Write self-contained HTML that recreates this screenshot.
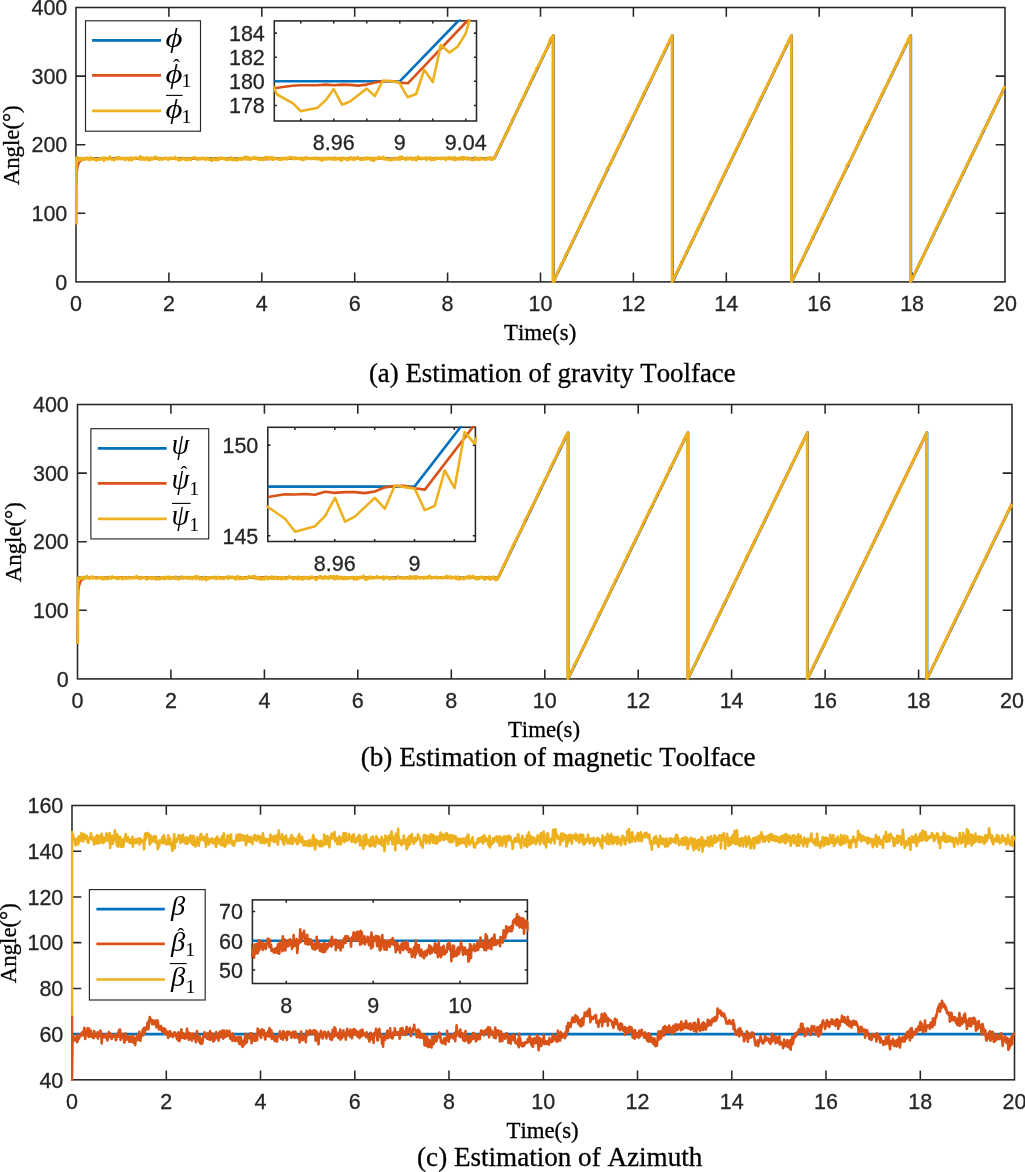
<!DOCTYPE html>
<html lang="en"><head><meta charset="utf-8"><title>Estimation of toolface and azimuth</title>
<style>html,body{margin:0;padding:0;background:#fff}svg{display:block}.t{stroke:#262626;stroke-width:.3px}.s{stroke:#000;stroke-width:.3px;font-kerning:none}</style></head>
<body>
<svg width="1025" height="1172" viewBox="0 0 1025 1172" font-family="'Liberation Sans',Arial,sans-serif" font-size="21.5" fill="#262626">
<rect width="1025" height="1172" fill="#fff"/>
<path d="M168.9 281.9v-9.3M168.9 7.5v9.3M261.8 281.9v-9.3M261.8 7.5v9.3M354.7 281.9v-9.3M354.7 7.5v9.3M447.6 281.9v-9.3M447.6 7.5v9.3M540.5 281.9v-9.3M540.5 7.5v9.3M633.4 281.9v-9.3M633.4 7.5v9.3M726.3 281.9v-9.3M726.3 7.5v9.3M819.2 281.9v-9.3M819.2 7.5v9.3M912.1 281.9v-9.3M912.1 7.5v9.3M76 213.3h9.3M1005 213.3h-9.3M76 144.7h9.3M1005 144.7h-9.3M76 76.1h9.3M1005 76.1h-9.3" stroke="#262626" stroke-width="1.55" fill="none"/>
<rect x="76" y="7.5" width="929" height="274.4" fill="none" stroke="#262626" stroke-width="1.55"/>
<text x="76" y="311.1" class="t" text-anchor="middle">0</text>
<text x="168.9" y="311.1" class="t" text-anchor="middle">2</text>
<text x="261.8" y="311.1" class="t" text-anchor="middle">4</text>
<text x="354.7" y="311.1" class="t" text-anchor="middle">6</text>
<text x="447.6" y="311.1" class="t" text-anchor="middle">8</text>
<text x="540.5" y="311.1" class="t" text-anchor="middle">10</text>
<text x="633.4" y="311.1" class="t" text-anchor="middle">12</text>
<text x="726.3" y="311.1" class="t" text-anchor="middle">14</text>
<text x="819.2" y="311.1" class="t" text-anchor="middle">16</text>
<text x="912.1" y="311.1" class="t" text-anchor="middle">18</text>
<text x="1005" y="311.1" class="t" text-anchor="middle">20</text>
<text x="67.3" y="289.6" class="t" text-anchor="end">0</text>
<text x="67.3" y="221" class="t" text-anchor="end">100</text>
<text x="67.3" y="152.4" class="t" text-anchor="end">200</text>
<text x="67.3" y="83.8" class="t" text-anchor="end">300</text>
<text x="67.3" y="15.2" class="t" text-anchor="end">400</text>
<clipPath id="c1"><rect x="74.7" y="6.2" width="931.6" height="277"/></clipPath>
<g clip-path="url(#c1)"><polyline points="76.3,158.4 494.4,158.4 553.4,35.5 553.4,281.9 672.6,35.5 672.6,281.9 791.7,35.5 791.7,281.9 910.9,35.5 910.9,281.9 1005.4,86.1" fill="none" stroke="#0072BD" stroke-width="2.6" stroke-linejoin="round"/></g>
<g clip-path="url(#c1)"><polyline points="76,224.4 76.2,195.1 76.5,181.5 76.7,174.9 76.9,171.4 77.2,169.3 77.4,167.9 77.6,166.6 77.9,165.8 78.1,165 78.3,164.3 78.6,163.7 78.8,163.1 79,162.7 79.3,162.3 79.5,161.8 79.7,161.6 79.9,161.3 80.2,161.2 80.4,161 80.6,160.9 80.9,160.7 81.1,160.6 81.3,160.4 81.6,160.2 81.8,160 82,160.1 82.3,160 82.5,159.8 82.7,159.7 83,159.7 83.2,159.6 83.4,159.6 83.7,159.6 83.9,159.4 84.1,159.4 84.4,159.3 84.6,159.1 84.8,159.1 85.1,159.1 85.3,159 85.5,159 85.8,159 86,159 86.2,158.8 86.5,158.9 86.7,158.8 86.9,158.8 87.1,158.8 87.4,158.6 87.6,158.6 87.8,158.7 88.1,158.7 88.3,158.6 88.5,158.6 88.8,158.6 89,158.6 89.2,158.5 89.5,158.4 89.7,158.5 89.9,158.5 90.9,158.5 91.8,158.5 92.7,158.6 93.7,158.7 94.6,158.7 95.5,158.6 96.4,158.5 97.4,158.6 98.3,158.7 99.2,158.6 100.2,158.8 101.1,158.8 102,158.8 102.9,158.7 103.9,158.6 104.8,158.6 105.7,158.7 106.7,158.7 107.6,158.5 108.5,158.6 109.4,158.6 110.4,158.6 111.3,158.6 112.2,158.6 113.2,158.7 114.1,158.7 115,158.7 115.9,158.6 116.9,158.6 117.8,158.6 118.7,158.5 119.7,158.5 120.6,158.5 121.5,158.5 122.5,158.4 123.4,158.6 124.3,158.5 125.2,158.7 126.2,158.8 127.1,158.8 128,158.9 129,158.8 129.9,158.6 130.8,158.7 131.7,158.7 132.7,158.7 133.6,158.7 134.5,158.7 135.5,158.7 136.4,158.6 137.3,158.6 138.2,158.7 139.2,158.7 140.1,158.6 141,158.7 142,158.7 142.9,158.8 143.8,158.7 144.7,158.6 145.7,158.6 146.6,158.7 147.5,158.7 148.5,158.8 149.4,158.9 150.3,158.8 151.3,159 152.2,158.9 153.1,159 154,158.9 155,158.9 155.9,158.8 156.8,158.8 157.8,158.9 158.7,158.8 159.6,158.6 160.5,158.6 161.5,158.7 162.4,158.7 163.3,158.7 164.3,158.6 165.2,158.7 166.1,158.7 167,158.7 168,158.8 168.9,158.9 169.8,158.7 170.8,158.7 171.7,158.6 172.6,158.6 173.6,158.7 174.5,158.7 175.4,158.7 176.3,158.7 177.3,158.7 178.2,158.7 179.1,158.8 180.1,158.9 181,158.7 181.9,158.8 182.8,158.8 183.8,158.8 184.7,158.7 185.6,158.8 186.6,158.8 187.5,158.8 188.4,158.9 189.3,158.8 190.3,158.8 191.2,158.8 192.1,158.8 193.1,158.8 194,158.8 194.9,158.8 195.8,158.9 196.8,158.9 197.7,158.8 198.6,158.8 199.6,158.8 200.5,158.8 201.4,158.8 202.4,158.8 203.3,158.7 204.2,158.7 205.1,158.7 206.1,158.7 207,158.6 207.9,158.6 208.9,158.5 209.8,158.6 210.7,158.7 211.6,158.6 212.6,158.5 213.5,158.5 214.4,158.5 215.4,158.5 216.3,158.4 217.2,158.3 218.1,158.4 219.1,158.3 220,158.4 220.9,158.4 221.9,158.4 222.8,158.3 223.7,158.2 224.6,158.1 225.6,158.3 226.5,158.4 227.4,158.4 228.4,158.5 229.3,158.5 230.2,158.4 231.2,158.6 232.1,158.8 233,158.7 233.9,158.7 234.9,158.7 235.8,158.7 236.7,158.8 237.7,158.9 238.6,158.9 239.5,158.9 240.4,159 241.4,158.9 242.3,158.9 243.2,158.8 244.2,158.9 245.1,158.9 246,159 246.9,159 247.9,158.9 248.8,159 249.7,158.9 250.7,158.8 251.6,158.7 252.5,158.8 253.4,158.7 254.4,158.7 255.3,158.7 256.2,158.8 257.2,158.8 258.1,158.7 259,158.7 260,158.7 260.9,158.7 261.8,158.6 262.7,158.6 263.7,158.8 264.6,158.8 265.5,159 266.5,159.2 267.4,159.2 268.3,159 269.2,159 270.2,159 271.1,159.1 272,158.9 273,158.9 273.9,158.8 274.8,158.8 275.7,158.8 276.7,158.7 277.6,158.7 278.5,158.6 279.5,158.7 280.4,158.7 281.3,158.7 282.2,158.6 283.2,158.7 284.1,158.7 285,158.7 286,158.8 286.9,158.6 287.8,158.5 288.8,158.6 289.7,158.5 290.6,158.5 291.5,158.7 292.5,158.7 293.4,158.7 294.3,158.7 295.3,158.7 296.2,158.7 297.1,158.7 298,158.6 299,158.6 299.9,158.6 300.8,158.5 301.8,158.5 302.7,158.6 303.6,158.7 304.5,158.6 305.5,158.5 306.4,158.4 307.3,158.4 308.3,158.4 309.2,158.4 310.1,158.5 311,158.5 312,158.5 312.9,158.4 313.8,158.4 314.8,158.4 315.7,158.5 316.6,158.5 317.6,158.4 318.5,158.4 319.4,158.4 320.3,158.4 321.3,158.5 322.2,158.6 323.1,158.5 324.1,158.5 325,158.6 325.9,158.6 326.8,158.6 327.8,158.7 328.7,158.7 329.6,158.8 330.6,158.7 331.5,158.7 332.4,158.7 333.3,158.5 334.3,158.6 335.2,158.6 336.1,158.6 337.1,158.6 338,158.7 338.9,158.6 339.9,158.5 340.8,158.5 341.7,158.5 342.6,158.6 343.6,158.6 344.5,158.7 345.4,158.8 346.4,158.7 347.3,158.7 348.2,158.6 349.1,158.5 350.1,158.5 351,158.5 351.9,158.3 352.9,158.4 353.8,158.4 354.7,158.6 355.6,158.6 356.6,158.4 357.5,158.4 358.4,158.5 359.4,158.6 360.3,158.6 361.2,158.6 362.1,158.6 363.1,158.6 364,158.6 364.9,158.6 365.9,158.6 366.8,158.6 367.7,158.6 368.7,158.5 369.6,158.4 370.5,158.4 371.4,158.4 372.4,158.5 373.3,158.5 374.2,158.7 375.2,158.8 376.1,158.7 377,158.6 377.9,158.6 378.9,158.8 379.8,158.8 380.7,158.8 381.7,158.8 382.6,158.6 383.5,158.5 384.4,158.6 385.4,158.7 386.3,158.7 387.2,158.7 388.2,158.8 389.1,158.8 390,158.8 390.9,158.7 391.9,158.6 392.8,158.5 393.7,158.6 394.7,158.5 395.6,158.6 396.5,158.6 397.5,158.6 398.4,158.7 399.3,158.8 400.2,158.7 401.2,158.7 402.1,158.7 403,158.6 404,158.8 404.9,158.8 405.8,158.8 406.7,158.7 407.7,158.7 408.6,158.6 409.5,158.6 410.5,158.7 411.4,158.8 412.3,158.7 413.2,158.6 414.2,158.8 415.1,158.7 416,158.6 417,158.5 417.9,158.5 418.8,158.6 419.7,158.7 420.7,158.5 421.6,158.5 422.5,158.4 423.5,158.4 424.4,158.4 425.3,158.6 426.3,158.6 427.2,158.5 428.1,158.7 429,158.6 430,158.5 430.9,158.6 431.8,158.7 432.8,158.7 433.7,158.7 434.6,158.7 435.5,158.8 436.5,158.8 437.4,158.8 438.3,158.9 439.3,158.9 440.2,158.8 441.1,158.9 442,158.9 443,158.9 443.9,158.9 444.8,158.8 445.8,158.9 446.7,158.7 447.6,158.8 448.5,158.7 449.5,158.7 450.4,158.8 451.3,158.7 452.3,158.7 453.2,158.6 454.1,158.6 455.1,158.7 456,158.7 456.9,158.7 457.8,158.6 458.8,158.7 459.7,158.7 460.6,158.8 461.6,158.7 462.5,158.8 463.4,158.9 464.3,158.9 465.3,158.8 466.2,158.9 467.1,159 468.1,159 469,159 469.9,159 470.8,159 471.8,159 472.7,158.9 473.6,158.9 474.6,158.9 475.5,158.9 476.4,159 477.3,159.1 478.3,158.9 479.2,158.9 480.1,158.8 481.1,158.8 482,158.8 482.9,158.8 483.9,158.6 484.8,158.7 485.7,158.8 486.6,158.9 487.6,158.9 488.5,158.8 489.4,158.8 490.4,158.8 491.3,158.9 492.2,158.9 493.1,158.8 494.1,158.4 553.1,35.5 553.1,281.9 672.2,35.5 672.2,281.9 791.4,35.5 791.4,281.9 910.5,35.5 910.5,281.9 1005,86.1" fill="none" stroke="#D95319" stroke-width="2.4" stroke-linejoin="round"/></g>
<g clip-path="url(#c1)"><polyline points="76.3,224.2 76.3,158.7 76.6,157.7 77,158.1 77.5,157.6 78,159 78.4,159.6 78.9,159.5 79.4,160.6 79.8,159.5 80.3,158.3 80.7,159.1 81.2,159.1 81.7,159.7 82.1,158.4 82.6,158.4 83.1,159 83.5,158.3 84,159.6 84.5,159.2 84.9,158.4 85.4,158.9 85.9,157.9 86.3,158.8 86.8,158.6 87.2,157.8 87.7,159.3 88.2,159 88.6,159.4 89.1,159.8 89.6,159.4 90,158 90.5,157.4 91,158.5 91.4,159.4 91.9,158.9 92.4,159.3 92.8,158.7 93.3,158.7 93.8,158.6 94.2,159 94.7,159.3 95.1,159.6 95.6,160.2 96.1,159.4 96.5,160.5 97,159.4 97.5,159.5 97.9,158.9 98.4,158.8 98.9,159.7 99.3,159.7 99.8,159.6 100.3,158.8 100.7,158.1 101.2,158.9 101.6,159.1 102.1,158 102.6,159.6 103,158.1 103.5,158.9 104,160.7 104.4,157.5 104.9,157.9 105.4,159.1 105.8,158.4 106.3,158.9 106.8,158.8 107.2,159.3 107.7,158.8 108.2,158.2 108.6,159 109.1,158.1 109.5,158.2 110,156.8 110.5,158.5 110.9,158.9 111.4,159.5 111.9,159.3 112.3,159 112.8,159.6 113.3,159.2 113.7,159.7 114.2,160.1 114.7,158.9 115.1,159.1 115.6,158.9 116,157.6 116.5,157.3 117,158.4 117.4,158.9 117.9,158.9 118.4,159.2 118.8,158.3 119.3,157.2 119.8,158.1 120.2,158.2 120.7,158.8 121.2,159.2 121.6,158.9 122.1,158.8 122.6,158.2 123,158.3 123.5,158.1 123.9,158.6 124.4,159 124.9,160.1 125.3,158.1 125.8,158.6 126.3,157.7 126.7,158.9 127.2,158.4 127.7,159.4 128.1,159 128.6,158.6 129.1,160.2 129.5,158.3 130,157.8 130.4,158.7 130.9,158.4 131.4,157.8 131.8,160 132.3,159.1 132.8,159.3 133.2,158.8 133.7,158.2 134.2,157.8 134.6,157.9 135.1,157.9 135.6,158.8 136,157.5 136.5,158 137,157.9 137.4,157.8 137.9,158.2 138.3,158.1 138.8,158.2 139.3,158.9 139.7,157.9 140.2,156.3 140.7,159.5 141.1,158.1 141.6,158.6 142.1,158.5 142.5,157.4 143,159.5 143.5,159.1 143.9,158.1 144.4,159.1 144.8,159.7 145.3,158.7 145.8,158.8 146.2,157.6 146.7,159.2 147.2,157.8 147.6,159.2 148.1,157.8 148.6,158.8 149,160.4 149.5,158.8 150,159.6 150.4,158.9 150.9,157.7 151.4,159.5 151.8,159.4 152.3,158.1 152.7,158.4 153.2,158 153.7,158.7 154.1,158.8 154.6,157.6 155.1,156.6 155.5,157.3 156,158 156.5,157.7 156.9,158.2 157.4,159 157.9,157.6 158.3,158.5 158.8,159.5 159.2,159.7 159.7,159.3 160.2,158.7 160.6,159.3 161.1,159.4 161.6,158.8 162,159.4 162.5,159.4 163,158.1 163.4,159.2 163.9,158.8 164.4,158.6 164.8,158.2 165.3,158.6 165.8,157.8 166.2,158.6 166.7,159.1 167.1,158.2 167.6,159 168.1,159.9 168.5,159.2 169,158.1 169.5,158.9 169.9,158.3 170.4,158.3 170.9,157.8 171.3,159 171.8,158.6 172.3,158.1 172.7,158.1 173.2,158.7 173.7,158.2 174.1,158.5 174.6,157.6 175,157 175.5,158.2 176,159.2 176.4,158 176.9,158.9 177.4,158.7 177.8,158.2 178.3,158 178.8,160.5 179.2,159.3 179.7,159.6 180.2,159.6 180.6,159.6 181.1,159.5 181.5,159.7 182,159.4 182.5,158.6 182.9,158 183.4,158 183.9,158 184.3,158.1 184.8,159.1 185.3,159.8 185.7,159.4 186.2,159.5 186.7,159.5 187.1,158.7 187.6,160 188.1,159.2 188.5,158.4 189,159.2 189.4,158.8 189.9,159.5 190.4,159.5 190.8,159.9 191.3,158.1 191.8,158.5 192.2,157.9 192.7,157.8 193.2,157.8 193.6,158 194.1,157.8 194.6,157.2 195,158.3 195.5,157.9 195.9,158.5 196.4,158.5 196.9,159.5 197.3,159.2 197.8,159.1 198.3,158.2 198.7,159.4 199.2,158.1 199.7,158.6 200.1,158.4 200.6,159 201.1,159 201.5,158.2 202,159.1 202.5,158.9 202.9,157.8 203.4,158.4 203.8,158.7 204.3,159.1 204.8,158.6 205.2,159.2 205.7,158.6 206.2,159.7 206.6,157.9 207.1,158 207.6,158.2 208,158.5 208.5,159.3 209,159.6 209.4,159.6 209.9,158.8 210.3,159.2 210.8,160 211.3,159.4 211.7,160.8 212.2,159.3 212.7,159.8 213.1,159.1 213.6,158.3 214.1,159 214.5,159.8 215,159.8 215.5,159.4 215.9,159.3 216.4,158.7 216.9,159.7 217.3,160.1 217.8,159.5 218.2,158.7 218.7,159.7 219.2,158 219.6,158.6 220.1,158.9 220.6,157.9 221,157.6 221.5,158 222,157.7 222.4,158.9 222.9,158.3 223.4,158.3 223.8,158.8 224.3,158.5 224.7,158.3 225.2,158.4 225.7,159.5 226.1,159.7 226.6,158.9 227.1,159.8 227.5,158.9 228,158.8 228.5,158.9 228.9,159.8 229.4,159 229.9,158.5 230.3,158.8 230.8,157.4 231.3,159.6 231.7,158.3 232.2,159.3 232.6,158.1 233.1,160 233.6,158.7 234,159.1 234.5,158.8 235,159.8 235.4,159.6 235.9,158.7 236.4,160.4 236.8,160 237.3,159.3 237.8,159.6 238.2,159 238.7,158.5 239.1,159.2 239.6,159.4 240.1,158 240.5,158.4 241,158.2 241.5,158.3 241.9,159.7 242.4,159.4 242.9,159.2 243.3,159.2 243.8,157.6 244.3,158.9 244.7,157 245.2,158.6 245.7,159 246.1,157.3 246.6,156.9 247,158.1 247.5,159.1 248,158.2 248.4,157.3 248.9,158.7 249.4,159.6 249.8,158.6 250.3,158.9 250.8,159.4 251.2,158.4 251.7,158.7 252.2,158 252.6,158.7 253.1,157.8 253.5,157.3 254,158.6 254.5,157.8 254.9,157.8 255.4,157.5 255.9,157.9 256.3,158.9 256.8,158.9 257.3,157.8 257.7,159.1 258.2,159.6 258.7,158.1 259.1,159 259.6,158.8 260.1,159.9 260.5,159.6 261,159.1 261.4,159.1 261.9,158.7 262.4,159.7 262.8,158.6 263.3,159.4 263.8,159.7 264.2,158.2 264.7,157.7 265.2,158.1 265.6,157 266.1,158.4 266.6,158 267,158.2 267.5,157.1 267.9,158.9 268.4,157.8 268.9,158.8 269.3,157.4 269.8,158.6 270.3,158.8 270.7,157.6 271.2,158.1 271.7,158.4 272.1,157.2 272.6,158.5 273.1,159.9 273.5,158.4 274,159.1 274.5,157.9 274.9,157.9 275.4,158.5 275.8,158.9 276.3,158.8 276.8,158.9 277.2,158.8 277.7,158.7 278.2,159.4 278.6,159 279.1,159.4 279.6,158.6 280,158.4 280.5,159.8 281,158.8 281.4,158.6 281.9,158.5 282.3,159.2 282.8,159 283.3,158 283.7,159.2 284.2,158.5 284.7,158 285.1,158.3 285.6,158.2 286.1,159 286.5,159.3 287,158.4 287.5,158.8 287.9,157.8 288.4,158.4 288.9,157.6 289.3,157.5 289.8,157.6 290.2,157.1 290.7,158 291.2,158 291.6,158.3 292.1,157.3 292.6,157.7 293,157.8 293.5,159.1 294,158.1 294.4,158.4 294.9,158.3 295.4,157.4 295.8,158.5 296.3,158.9 296.7,158.8 297.2,158.3 297.7,158.1 298.1,158.6 298.6,158.6 299.1,159.1 299.5,158.5 300,158.7 300.5,157.8 300.9,159.4 301.4,159 301.9,159.5 302.3,159.8 302.8,158.8 303.3,158.5 303.7,159.7 304.2,157.9 304.6,158.1 305.1,158.7 305.6,159 306,157.3 306.5,158.3 307,158.1 307.4,158 307.9,158.9 308.4,158.6 308.8,158.6 309.3,158.7 309.8,158.6 310.2,158.9 310.7,158.1 311.1,158.4 311.6,158.8 312.1,158.1 312.5,157.9 313,158.1 313.5,157.9 313.9,158.3 314.4,158.9 314.9,158.5 315.3,158.8 315.8,157.5 316.3,158 316.7,159.2 317.2,159.2 317.7,158.7 318.1,159.1 318.6,159.3 319,159.2 319.5,159 320,158.1 320.4,159.4 320.9,158.7 321.4,160.2 321.8,159.8 322.3,160.4 322.8,157.9 323.2,159.3 323.7,158.7 324.2,158.8 324.6,158.2 325.1,159.5 325.5,159 326,159.3 326.5,157.8 326.9,158.2 327.4,158.5 327.9,159.2 328.3,158.7 328.8,159.1 329.3,158.1 329.7,157.7 330.2,158.9 330.7,159 331.1,159.2 331.6,158.2 332.1,159.2 332.5,159.1 333,159.5 333.4,159 333.9,159 334.4,158 334.8,157.6 335.3,158.7 335.8,159.8 336.2,158.7 336.7,158.3 337.2,159 337.6,158.6 338.1,157.9 338.6,158.8 339,159 339.5,158.3 340,158.8 340.4,159.8 340.9,160.6 341.3,159.5 341.8,159.5 342.3,159.6 342.7,158 343.2,158.5 343.7,159.2 344.1,157.8 344.6,158.3 345.1,158.6 345.5,158.7 346,158.5 346.5,159.6 346.9,158.5 347.4,160 347.8,158.7 348.3,159 348.8,159.7 349.2,158.9 349.7,158.3 350.2,158.5 350.6,157.3 351.1,158.6 351.6,159.3 352,159.2 352.5,159.6 353,158.6 353.4,159 353.9,157.8 354.4,158.6 354.8,159.6 355.3,159.2 355.7,157.9 356.2,158 356.7,158.9 357.1,158.6 357.6,157.3 358.1,157.8 358.5,158.4 359,157.9 359.5,159 359.9,159 360.4,159.7 360.9,158.9 361.3,158.4 361.8,159.7 362.2,159.3 362.7,158.7 363.2,159.4 363.6,159 364.1,159.1 364.6,157.8 365,157.8 365.5,158.2 366,159.3 366.4,159.1 366.9,158.2 367.4,157.5 367.8,158.8 368.3,157.7 368.8,158.7 369.2,158.9 369.7,159 370.1,158.9 370.6,159.7 371.1,158.6 371.5,157.8 372,159.4 372.5,160.4 372.9,159.4 373.4,160.3 373.9,160.7 374.3,158.3 374.8,158.4 375.3,159.3 375.7,158.1 376.2,158.2 376.6,158.7 377.1,158.4 377.6,158.7 378,157.8 378.5,157.2 379,158.1 379.4,158.3 379.9,157.2 380.4,158.1 380.8,158.6 381.3,158.6 381.8,158.9 382.2,158.2 382.7,158.8 383.2,156.9 383.6,159 384.1,158.7 384.5,159.4 385,158.7 385.5,157.9 385.9,157.8 386.4,159.3 386.9,159.5 387.3,159.7 387.8,159.3 388.3,159.4 388.7,159.1 389.2,160 389.7,158.9 390.1,158.6 390.6,159.2 391,159.4 391.5,160.2 392,158.7 392.4,159.3 392.9,158.7 393.4,159 393.8,159.1 394.3,159.6 394.8,158.6 395.2,158.1 395.7,159.3 396.2,159 396.6,159 397.1,159.1 397.6,158.3 398,159.6 398.5,158.7 398.9,159.2 399.4,157.2 399.9,159 400.3,159.4 400.8,158 401.3,157.9 401.7,156.6 402.2,158.3 402.7,158.4 403.1,157.9 403.6,158.1 404.1,158.8 404.5,158.4 405,158.7 405.4,159.7 405.9,159.5 406.4,159.2 406.8,159.1 407.3,157.6 407.8,159.2 408.2,158 408.7,158.5 409.2,158.7 409.6,159.2 410.1,158.6 410.6,157.6 411,157.8 411.5,158.8 412,158.7 412.4,159.8 412.9,159.6 413.3,159.6 413.8,158.2 414.3,159.2 414.7,159 415.2,157.6 415.7,158.2 416.1,160.3 416.6,158.9 417.1,159.5 417.5,157.9 418,156.8 418.5,158.1 418.9,157.7 419.4,157.7 419.8,157.6 420.3,158.4 420.8,158.1 421.2,159.1 421.7,158 422.2,158.8 422.6,158.5 423.1,158.4 423.6,157.9 424,158.7 424.5,158.7 425,158.3 425.4,157.9 425.9,157.5 426.4,159.9 426.8,159.1 427.3,158.9 427.7,159.1 428.2,158.8 428.7,157.6 429.1,158.5 429.6,158.7 430.1,157.9 430.5,157.6 431,160.1 431.5,158.2 431.9,158.7 432.4,159 432.9,159 433.3,159.7 433.8,159.3 434.2,159.2 434.7,158.2 435.2,159.6 435.6,157.9 436.1,158.5 436.6,157.7 437,158.6 437.5,158.3 438,158.8 438.4,158.7 438.9,158.2 439.4,158.2 439.8,158.5 440.3,158.2 440.8,159 441.2,158.7 441.7,157.6 442.1,158 442.6,158.1 443.1,158.9 443.5,158.6 444,158.5 444.5,157.6 444.9,159.2 445.4,159.2 445.9,159.9 446.3,158.5 446.8,158.2 447.3,158.7 447.7,158.4 448.2,158.2 448.6,157.3 449.1,158.7 449.6,159 450,159.2 450.5,159.2 451,158.5 451.4,157.4 451.9,158.6 452.4,158.5 452.8,158.6 453.3,159.6 453.8,159 454.2,158.6 454.7,158.9 455.2,157.3 455.6,160.1 456.1,158.3 456.5,158.6 457,158.8 457.5,158.4 457.9,159.1 458.4,159.4 458.9,158.9 459.3,157.9 459.8,159.4 460.3,157.6 460.7,157.9 461.2,157.8 461.7,157.2 462.1,158.8 462.6,158.5 463,159.6 463.5,158.9 464,157.1 464.4,158.1 464.9,157.7 465.4,158.8 465.8,158.6 466.3,158 466.8,159.2 467.2,159.2 467.7,157.7 468.2,158.9 468.6,158.8 469.1,158.7 469.6,158.1 470,158.1 470.5,158.8 470.9,159.5 471.4,159.7 471.9,159.1 472.3,159.9 472.8,159.1 473.3,159.2 473.7,160 474.2,159.1 474.7,158.6 475.1,157.3 475.6,159.4 476.1,158.5 476.5,158.7 477,159.1 477.4,158.8 477.9,158.2 478.4,159 478.8,159.8 479.3,159.9 479.8,158.2 480.2,157.7 480.7,158.9 481.2,158.8 481.6,159.2 482.1,158.6 482.6,158.7 483,159.1 483.5,158.9 484,159.1 484.4,159.3 484.9,159.3 485.3,158.8 485.8,159.8 486.3,158.9 486.7,158.8 487.2,158.3 487.7,159.1 488.1,158 488.6,159 489.1,158.5 489.5,157.6 490,157.5 490.5,157.5 490.9,159.7 491.4,158.7 491.8,159.1 492.3,159.7 492.8,158.4 493.2,158.4 493.7,157.2 494,158.6 494.9,157.5 495.8,154 496.8,152.3 497.7,151.3 498.6,148.5 499.5,147.5 500.5,144.4 501.4,143.3 502.3,141.7 503.3,139.5 504.2,137.8 505.1,135.3 506.1,133.4 507,131.5 507.9,129.9 508.8,129.9 509.8,125.6 510.7,124.9 511.6,121.6 512.6,119.2 513.5,117.7 514.4,116.2 515.3,114.1 516.3,112.2 517.2,110.5 518.1,108.5 519.1,106.8 520,103.6 520.9,102.4 521.8,99.8 522.8,98.6 523.7,96.5 524.6,94.7 525.6,92.3 526.5,90.2 527.4,88.6 528.3,87.2 529.3,85.3 530.2,81.9 531.1,81.1 532.1,79.2 533,76.2 533.9,74.5 534.9,72.9 535.8,71.5 536.7,67.8 537.6,67.1 538.6,65.1 539.5,63.6 540.4,62.4 541.4,60.4 542.3,57.4 543.2,55.5 544.1,53.9 545.1,52.5 546,50.7 546.9,48.1 547.9,46.9 548.8,43.5 549.7,41.4 550.6,38.4 551.6,37.7 552.5,36.6 553,35.5 553,281.9 553.4,281.8 554.4,281.4 555.3,277.8 556.2,275.6 557.1,272.9 558.1,271.2 559,269.3 559.9,267.6 560.9,265.4 561.8,263 562.7,262.6 563.7,260.4 564.6,259 565.5,255.2 566.4,253.5 567.4,251.9 568.3,251.2 569.2,248.4 570.2,246.7 571.1,244.6 572,242.9 572.9,240.5 573.9,239.1 574.8,236.5 575.7,234.9 576.7,233.3 577.6,231.3 578.5,229.6 579.4,226.9 580.4,225.6 581.3,223.3 582.2,221.8 583.2,220.6 584.1,217.2 585,216.5 585.9,213.5 586.9,211.7 587.8,211.1 588.7,208.7 589.7,206.5 590.6,204.8 591.5,203.1 592.5,200 593.4,198.7 594.3,196.3 595.2,194.9 596.2,192.5 597.1,191.3 598,188.9 599,186.6 599.9,185 600.8,183.4 601.7,181.9 602.7,179.2 603.6,177.1 604.5,175.6 605.5,174 606.4,171.2 607.3,168.1 608.2,167.9 609.2,165.6 610.1,163.6 611,163.5 612,160 612.9,158.5 613.8,155.3 614.7,154.4 615.7,152.8 616.6,150.5 617.5,148.4 618.5,146.9 619.4,144.7 620.3,143.5 621.3,140.9 622.2,138.4 623.1,135.7 624,134.6 625,132.9 625.9,130.4 626.8,128.6 627.8,126.3 628.7,124.7 629.6,123.5 630.5,121.4 631.5,119.5 632.4,117.5 633.3,115.7 634.3,114.3 635.2,113.2 636.1,110.4 637,109.3 638,106.1 638.9,104.2 639.8,103.3 640.8,100 641.7,97.9 642.6,96.5 643.5,93.6 644.5,91.5 645.4,91.5 646.3,88.2 647.3,86.6 648.2,84.7 649.1,82.5 650.1,81.6 651,79.6 651.9,77.8 652.8,75.8 653.8,73.5 654.7,72.4 655.6,70.2 656.6,67.3 657.5,65.8 658.4,63.6 659.3,63.1 660.3,60.5 661.2,58.4 662.1,56.1 663.1,54.6 664,51.7 664.9,50.4 665.8,48.4 666.8,46.5 667.7,44.2 668.6,43 669.6,40.1 670.5,38.5 671.4,36.8 672.1,35.5 672.1,281.9 672.4,281.7 673.3,279.5 674.2,277.2 675.1,275.4 676.1,273.8 677,271.6 677.9,270.1 678.9,267.5 679.8,266.3 680.7,265.7 681.6,261.6 682.6,260.5 683.5,259.3 684.4,256.8 685.4,255.3 686.3,251.6 687.2,250.6 688.1,250 689.1,246.7 690,245.4 690.9,242.1 691.9,242 692.8,240.8 693.7,237.4 694.6,235.8 695.6,233.9 696.5,233 697.4,229.5 698.4,226.8 699.3,227.1 700.2,223.3 701.2,222.4 702.1,218.7 703,218 703.9,216.4 704.9,213.7 705.8,212.1 706.7,210.9 707.7,208.2 708.6,207 709.5,205.9 710.4,201.6 711.4,201.1 712.3,199.4 713.2,196.9 714.2,196.1 715.1,194 716,191.6 716.9,189.7 717.9,187.4 718.8,184.8 719.7,183.9 720.7,181.4 721.6,179.4 722.5,178.5 723.4,175.8 724.4,174.6 725.3,171.4 726.2,169.8 727.2,168.2 728.1,167.1 729,164.3 730,162.9 730.9,160.1 731.8,158.7 732.7,157.2 733.7,154.2 734.6,152.4 735.5,151.3 736.5,148.2 737.4,147.2 738.3,145.3 739.2,143.1 740.2,141.7 741.1,139.6 742,137.5 743,134.6 743.9,132.6 744.8,131.8 745.7,128.7 746.7,127.8 747.6,125.6 748.5,123.4 749.5,121.8 750.4,118.6 751.3,118 752.2,117 753.2,113.5 754.1,112.7 755,110.7 756,110.4 756.9,106 757.8,104.2 758.8,102.3 759.7,100.3 760.6,97.9 761.5,97 762.5,94.5 763.4,93.6 764.3,91.5 765.3,88.7 766.2,87.2 767.1,86.3 768,83.3 769,81.7 769.9,80.2 770.8,77.5 771.8,76.1 772.7,74.9 773.6,72.7 774.5,69 775.5,69.1 776.4,66.1 777.3,63.9 778.3,62 779.2,61.2 780.1,58.7 781,56.5 782,54.2 782.9,53.2 783.8,51.6 784.8,48.3 785.7,46.3 786.6,44.8 787.6,43.5 788.5,41 789.4,39.2 790.3,36.9 791.3,36.2 791.3,35.5 791.3,281.9 792.2,280.2 793.1,278.4 794.1,277.1 795,274.4 795.9,272.6 796.8,270.9 797.8,268.5 798.7,267.7 799.6,264.9 800.6,262.7 801.5,260.9 802.4,258.4 803.3,257.9 804.3,256.2 805.2,253.2 806.1,251.1 807.1,248.2 808,247.2 808.9,246.2 809.8,243.2 810.8,242.3 811.7,240.8 812.6,236.3 813.6,235.8 814.5,233.7 815.4,231.8 816.4,229.1 817.3,228.1 818.2,225.6 819.1,225.1 820.1,223.4 821,219.7 821.9,217.8 822.9,216.5 823.8,214.7 824.7,212.8 825.6,211.4 826.6,208.1 827.5,206.8 828.4,204.9 829.4,203.1 830.3,200.7 831.2,199.2 832.1,197.1 833.1,196.3 834,193.4 834.9,190.4 835.9,190.2 836.8,188 837.7,185.4 838.7,183.5 839.6,181.8 840.5,181.2 841.4,178 842.4,177.1 843.3,175 844.2,172.2 845.2,170.8 846.1,168.2 847,164.8 847.9,164.4 848.9,162.5 849.8,161.5 850.7,159.5 851.7,157.8 852.6,155.5 853.5,154 854.4,151.8 855.4,149.6 856.3,148.1 857.2,146.5 858.2,144.5 859.1,141.5 860,139.8 860.9,137.3 861.9,135.3 862.8,134.3 863.7,131.7 864.7,131.1 865.6,126.9 866.5,125.6 867.5,124.6 868.4,123.2 869.3,120.4 870.2,119.8 871.2,117.2 872.1,114.4 873,112.8 874,111.3 874.9,108.5 875.8,107.8 876.7,105 877.7,103.6 878.6,101.9 879.5,99.1 880.5,98.1 881.4,94.4 882.3,94 883.2,90.5 884.2,90.5 885.1,87.5 886,86.7 887,84.9 887.9,82 888.8,79.8 889.7,79 890.7,75.6 891.6,74.9 892.5,72.4 893.5,70.3 894.4,68.3 895.3,67.8 896.3,63.8 897.2,62.5 898.1,61.2 899,59.7 900,58.1 900.9,56 901.8,52.9 902.8,51.5 903.7,50.1 904.6,47.8 905.5,44.6 906.5,43.8 907.4,42.1 908.3,39 909.3,37.6 910.2,35.9 910.4,35.5 910.4,281.9 911.1,281.1 912,279.8 913,277.6 913.9,275.3 914.8,273.2 915.8,270.9 916.7,268.9 917.6,267.1 918.5,265.2 919.5,264.1 920.4,262.8 921.3,259.9 922.3,258.3 923.2,256.1 924.1,254 925.1,252.7 926,250.7 926.9,248.1 927.8,246 928.8,244.6 929.7,242 930.6,240.5 931.6,239.1 932.5,236.5 933.4,233.4 934.3,233.1 935.3,230 936.2,228 937.1,226 938.1,225.5 939,221.8 939.9,221 940.8,219.3 941.8,217.4 942.7,215 943.6,213.4 944.6,211.6 945.5,208.8 946.4,208.1 947.3,206.4 948.3,203.3 949.2,201.4 950.1,199.3 951.1,198.7 952,195.4 952.9,193.9 953.9,191.2 954.8,191.1 955.7,188.3 956.6,186.7 957.6,185.5 958.5,183.1 959.4,180 960.4,179.1 961.3,177.3 962.2,174.4 963.1,172.4 964.1,170.5 965,169.7 965.9,167.3 966.9,164.7 967.8,163.8 968.7,161.9 969.6,159 970.6,156.7 971.5,156.4 972.4,155.4 973.4,152.7 974.3,150.6 975.2,148.1 976.1,145.7 977.1,144.2 978,142.7 978.9,140.2 979.9,139 980.8,136.5 981.7,134.9 982.7,131 983.6,130.2 984.5,129.3 985.4,127.5 986.4,125.2 987.3,124 988.2,121.5 989.2,119.6 990.1,116.7 991,115.6 991.9,113.9 992.9,112.3 993.8,110.3 994.7,107.6 995.7,105.8 996.6,103.1 997.5,102.2 998.4,99.3 999.4,97.8 1000.3,96.1 1001.2,95.4 1002.2,93 1003.1,89.8 1004,87.5 1004.9,86.3" fill="none" stroke="#EDB120" stroke-width="2.8" stroke-linejoin="round"/></g>
<rect x="85.5" y="20.8" width="115" height="110.4" fill="#fff" stroke="#262626" stroke-width="1.15"/>
<line x1="92.1" x2="161" y1="40.4" y2="40.4" stroke="#0072BD" stroke-width="2.6"/>
<line x1="92.1" x2="161" y1="75.4" y2="75.4" stroke="#D95319" stroke-width="2.6"/>
<line x1="92.1" x2="161" y1="110.9" y2="110.9" stroke="#EDB120" stroke-width="2.6"/>
<rect x="274.3" y="20.9" width="202.2" height="100.1" fill="#fff"/>
<clipPath id="c2"><rect x="273" y="19.6" width="204.8" height="102.7"/></clipPath>
<path d="M300.8 121v-2.6M300.8 20.9v2.6M333.8 121v-2.6M333.8 20.9v2.6M366.8 121v-2.6M366.8 20.9v2.6M399.8 121v-2.6M399.8 20.9v2.6M432.8 121v-2.6M432.8 20.9v2.6M465.8 121v-2.6M465.8 20.9v2.6M274.3 105.4h2.6M476.5 105.4h-2.6M274.3 81.3h2.6M476.5 81.3h-2.6M274.3 57.2h2.6M476.5 57.2h-2.6M274.3 33.1h2.6M476.5 33.1h-2.6" stroke="#262626" stroke-width="1.55" fill="none"/>
<rect x="274.3" y="20.9" width="202.2" height="100.1" fill="none" stroke="#262626" stroke-width="1.55"/>
<g clip-path="url(#c2)"><polyline points="274.3,81.3 399.8,81.3 458.2,21 470,9" fill="none" stroke="#0072BD" stroke-width="2.6" stroke-linejoin="round"/></g>
<g clip-path="url(#c2)"><polyline points="274.3,88.2 283,87 292,85.8 300,85.3 317,85.2 326,84.6 334,85.3 342,84.6 350,84.9 358,85.6 366.7,84.6 375,82.4 383,81.2 391,81 399.8,82.6 408.1,83.2 467.1,21 475,12.8" fill="none" stroke="#D95319" stroke-width="2.6" stroke-linejoin="round"/></g>
<g clip-path="url(#c2)"><polyline points="272,84 277.1,94.5 284.5,98.6 292.7,103.1 300.7,111.1 309,109.5 317.4,107.9 326,99.9 333.7,89.1 342,104.7 350.1,101.5 358.4,95 366.7,88.6 374.8,96.1 382.9,80.5 391,81.3 399,82.1 407.6,97.2 416.1,94 424.2,69.8 432.8,82.1 440.8,45.1 449.4,52.6 457.5,46.7 465.5,33.9 469.3,21 472,10" fill="none" stroke="#EDB120" stroke-width="2.6" stroke-linejoin="round"/></g>
<text x="333.8" y="150.2" class="t" text-anchor="middle">8.96</text>
<text x="399.8" y="150.2" class="t" text-anchor="middle">9</text>
<text x="465.8" y="150.2" class="t" text-anchor="middle">9.04</text>
<text x="264.8" y="113.2" class="t" text-anchor="end">178</text>
<text x="264.8" y="89" class="t" text-anchor="end">180</text>
<text x="264.8" y="64.9" class="t" text-anchor="end">182</text>
<text x="264.8" y="40.8" class="t" text-anchor="end">184</text>
<path d="M170.9 678.9v-9.3M170.9 404.5v9.3M264.4 678.9v-9.3M264.4 404.5v9.3M357.8 678.9v-9.3M357.8 404.5v9.3M451.3 678.9v-9.3M451.3 404.5v9.3M544.8 678.9v-9.3M544.8 404.5v9.3M638.2 678.9v-9.3M638.2 404.5v9.3M731.6 678.9v-9.3M731.6 404.5v9.3M825.1 678.9v-9.3M825.1 404.5v9.3M918.6 678.9v-9.3M918.6 404.5v9.3M77.5 610.3h9.3M1012 610.3h-9.3M77.5 541.7h9.3M1012 541.7h-9.3M77.5 473.1h9.3M1012 473.1h-9.3" stroke="#262626" stroke-width="1.55" fill="none"/>
<rect x="77.5" y="404.5" width="934.5" height="274.4" fill="none" stroke="#262626" stroke-width="1.55"/>
<text x="77.5" y="708.1" class="t" text-anchor="middle">0</text>
<text x="170.9" y="708.1" class="t" text-anchor="middle">2</text>
<text x="264.4" y="708.1" class="t" text-anchor="middle">4</text>
<text x="357.8" y="708.1" class="t" text-anchor="middle">6</text>
<text x="451.3" y="708.1" class="t" text-anchor="middle">8</text>
<text x="544.8" y="708.1" class="t" text-anchor="middle">10</text>
<text x="638.2" y="708.1" class="t" text-anchor="middle">12</text>
<text x="731.6" y="708.1" class="t" text-anchor="middle">14</text>
<text x="825.1" y="708.1" class="t" text-anchor="middle">16</text>
<text x="918.6" y="708.1" class="t" text-anchor="middle">18</text>
<text x="1012" y="708.1" class="t" text-anchor="middle">20</text>
<text x="68.8" y="686.6" class="t" text-anchor="end">0</text>
<text x="68.8" y="618" class="t" text-anchor="end">100</text>
<text x="68.8" y="549.4" class="t" text-anchor="end">200</text>
<text x="68.8" y="480.8" class="t" text-anchor="end">300</text>
<text x="68.8" y="412.2" class="t" text-anchor="end">400</text>
<clipPath id="c3"><rect x="76.2" y="403.2" width="937.1" height="277"/></clipPath>
<g clip-path="url(#c3)"><polyline points="77.8,577.5 498.4,577.5 568.2,432.5 568.2,678.9 688.1,432.5 688.1,678.9 807.7,432.5 807.7,678.9 927.1,432.5 927.1,678.9 1012.4,503.3" fill="none" stroke="#0072BD" stroke-width="2.6" stroke-linejoin="round"/></g>
<g clip-path="url(#c3)"><polyline points="77.5,644.1 77.7,614.5 78,600.9 78.2,594.2 78.4,590.6 78.7,588.4 78.9,586.9 79.1,585.8 79.4,584.9 79.6,584.1 79.8,583.5 80.1,582.7 80.3,582.2 80.5,581.7 80.8,581.2 81,580.8 81.2,580.4 81.5,580.1 81.7,579.9 81.9,579.8 82.2,579.7 82.4,579.4 82.6,579.4 82.9,579.2 83.1,579.1 83.3,579 83.6,578.9 83.8,578.8 84,578.6 84.3,578.4 84.5,578.3 84.7,578.2 85,578.2 85.2,578.1 85.4,578 85.7,578 85.9,578 86.1,578 86.4,577.9 86.6,577.9 86.8,577.9 87.1,578 87.3,577.9 87.5,578 87.8,578 88,577.9 88.2,578.1 88.5,578.1 88.7,578 88.9,578.1 89.2,577.9 89.4,578 89.6,577.9 89.9,577.8 90.1,577.7 90.3,577.7 90.6,577.7 90.8,577.8 91.1,577.7 91.3,577.8 91.5,577.8 92.5,577.7 93.4,577.8 94.3,577.8 95.3,577.8 96.2,577.9 97.1,577.8 98.1,577.8 99,577.9 99.9,577.9 100.9,577.9 101.8,577.9 102.7,577.9 103.7,578 104.6,577.9 105.5,577.9 106.5,577.8 107.4,577.8 108.3,577.7 109.3,577.8 110.2,577.8 111.1,577.9 112.1,577.8 113,577.8 113.9,577.6 114.9,577.5 115.8,577.5 116.7,577.6 117.7,577.6 118.6,577.6 119.6,577.5 120.5,577.4 121.4,577.5 122.4,577.6 123.3,577.5 124.2,577.5 125.2,577.6 126.1,577.5 127,577.5 128,577.6 128.9,577.6 129.8,577.8 130.8,577.7 131.7,577.8 132.6,577.9 133.6,577.9 134.5,577.8 135.4,577.8 136.4,577.8 137.3,577.9 138.2,577.9 139.2,578 140.1,578 141,577.9 142,577.9 142.9,577.7 143.8,577.7 144.8,577.7 145.7,577.7 146.7,577.7 147.6,577.6 148.5,577.6 149.5,577.7 150.4,577.6 151.3,577.6 152.3,577.5 153.2,577.5 154.1,577.6 155.1,577.7 156,577.6 156.9,577.6 157.9,577.7 158.8,577.7 159.7,577.7 160.7,577.9 161.6,578 162.5,578.1 163.5,578.1 164.4,578 165.3,578 166.3,578 167.2,577.9 168.1,578 169.1,578 170,578.1 171,578.1 171.9,578.1 172.8,578.1 173.8,578.1 174.7,578.2 175.6,578.2 176.6,578 177.5,578 178.4,578.1 179.4,578.1 180.3,578 181.2,577.9 182.2,578 183.1,577.9 184,577.9 185,578 185.9,578 186.8,578 187.8,577.9 188.7,577.9 189.6,577.9 190.6,577.8 191.5,577.8 192.4,577.7 193.4,577.8 194.3,577.9 195.2,577.8 196.2,577.9 197.1,577.9 198.1,577.9 199,577.9 199.9,578 200.9,577.8 201.8,578 202.7,577.9 203.7,577.7 204.6,577.7 205.5,577.7 206.5,577.7 207.4,577.6 208.3,577.7 209.3,577.7 210.2,577.7 211.1,577.7 212.1,577.7 213,577.6 213.9,577.7 214.9,577.7 215.8,577.7 216.7,577.8 217.7,577.8 218.6,577.8 219.5,577.9 220.5,577.7 221.4,577.8 222.3,577.9 223.3,577.8 224.2,577.8 225.2,577.8 226.1,577.8 227,577.8 228,577.7 228.9,577.8 229.8,577.8 230.8,577.6 231.7,577.8 232.6,577.8 233.6,577.8 234.5,577.8 235.4,577.9 236.4,577.8 237.3,577.8 238.2,577.6 239.2,577.6 240.1,577.6 241,577.6 242,577.6 242.9,577.5 243.8,577.5 244.8,577.5 245.7,577.5 246.6,577.4 247.6,577.4 248.5,577.5 249.4,577.6 250.4,577.6 251.3,577.6 252.3,577.7 253.2,577.8 254.1,577.8 255.1,577.7 256,577.7 256.9,577.7 257.9,577.5 258.8,577.6 259.7,577.3 260.7,577.3 261.6,577.3 262.5,577.4 263.5,577.6 264.4,577.7 265.3,577.7 266.3,577.5 267.2,577.7 268.1,577.5 269.1,577.6 270,577.5 270.9,577.7 271.9,577.7 272.8,577.8 273.7,577.7 274.7,577.7 275.6,577.8 276.5,577.7 277.5,577.7 278.4,577.6 279.4,577.6 280.3,577.5 281.2,577.5 282.2,577.7 283.1,577.8 284,577.7 285,577.6 285.9,577.6 286.8,577.7 287.8,577.7 288.7,577.7 289.6,577.7 290.6,577.8 291.5,577.6 292.4,577.6 293.4,577.7 294.3,577.8 295.2,577.8 296.2,577.8 297.1,577.7 298,577.7 299,577.7 299.9,577.8 300.8,577.8 301.8,577.7 302.7,577.7 303.6,577.5 304.6,577.6 305.5,577.6 306.5,577.6 307.4,577.6 308.3,577.7 309.3,577.8 310.2,577.8 311.1,577.8 312.1,577.8 313,577.7 313.9,577.6 314.9,577.6 315.8,577.6 316.7,577.7 317.7,577.6 318.6,577.6 319.5,577.6 320.5,577.6 321.4,577.6 322.3,577.7 323.3,577.8 324.2,577.7 325.1,577.7 326.1,577.6 327,577.6 327.9,577.6 328.9,577.5 329.8,577.4 330.7,577.5 331.7,577.5 332.6,577.6 333.6,577.7 334.5,577.6 335.4,577.6 336.4,577.6 337.3,577.5 338.2,577.5 339.2,577.6 340.1,577.6 341,577.7 342,577.7 342.9,577.7 343.8,577.5 344.8,577.5 345.7,577.5 346.6,577.5 347.6,577.7 348.5,577.7 349.4,577.8 350.4,577.7 351.3,577.7 352.2,577.6 353.2,577.5 354.1,577.5 355,577.5 356,577.5 356.9,577.5 357.9,577.5 358.8,577.5 359.7,577.5 360.7,577.3 361.6,577.4 362.5,577.5 363.5,577.5 364.4,577.7 365.3,577.6 366.3,577.6 367.2,577.6 368.1,577.5 369.1,577.3 370,577.4 370.9,577.4 371.9,577.4 372.8,577.4 373.7,577.4 374.7,577.4 375.6,577.3 376.5,577.3 377.5,577.3 378.4,577.3 379.3,577.3 380.3,577.3 381.2,577.3 382.1,577.2 383.1,577.2 384,577.3 385,577.4 385.9,577.5 386.8,577.6 387.8,577.6 388.7,577.6 389.6,577.7 390.6,577.7 391.5,577.7 392.4,577.7 393.4,577.8 394.3,577.7 395.2,577.7 396.2,577.8 397.1,577.9 398,577.9 399,577.8 399.9,577.7 400.8,577.7 401.8,577.8 402.7,577.8 403.6,577.9 404.6,577.9 405.5,578 406.4,578 407.4,577.9 408.3,577.9 409.2,577.9 410.2,577.9 411.1,578 412.1,578 413,577.9 413.9,577.8 414.9,577.8 415.8,577.7 416.7,577.8 417.7,577.7 418.6,577.6 419.5,577.7 420.5,577.6 421.4,577.7 422.3,577.8 423.3,577.9 424.2,577.8 425.1,577.8 426.1,577.8 427,577.9 427.9,577.7 428.9,577.8 429.8,577.8 430.7,577.7 431.7,577.6 432.6,577.6 433.5,577.8 434.5,577.8 435.4,577.7 436.3,577.7 437.3,577.6 438.2,577.7 439.2,577.7 440.1,577.7 441,577.7 442,577.7 442.9,577.6 443.8,577.7 444.8,577.8 445.7,577.9 446.6,577.9 447.6,578 448.5,577.8 449.4,577.7 450.4,577.7 451.3,577.8 452.2,577.8 453.2,577.8 454.1,577.7 455,577.7 456,577.7 456.9,577.7 457.8,577.9 458.8,577.9 459.7,578 460.6,577.9 461.6,577.9 462.5,577.9 463.4,578 464.4,577.8 465.3,577.9 466.3,577.9 467.2,577.9 468.1,578 469.1,578 470,577.9 470.9,577.8 471.9,577.9 472.8,577.9 473.7,577.9 474.7,577.9 475.6,577.9 476.5,577.9 477.5,577.8 478.4,577.8 479.3,577.8 480.3,577.8 481.2,577.8 482.1,577.8 483.1,577.7 484,577.7 484.9,577.7 485.9,577.7 486.8,577.8 487.7,577.9 488.7,577.9 489.6,577.9 490.5,577.9 491.5,578 492.4,578 493.4,577.9 494.3,578 495.2,577.9 496.2,577.8 497.1,577.8 498,577.5 567.9,432.5 567.9,678.9 687.7,432.5 687.7,678.9 807.3,432.5 807.3,678.9 926.7,432.5 926.7,678.9 1012,503.3" fill="none" stroke="#D95319" stroke-width="2.4" stroke-linejoin="round"/></g>
<g clip-path="url(#c3)"><polyline points="77.8,643.9 77.8,577.9 78.1,578.2 78.5,577.7 79,577.9 79.5,578.4 79.9,578.6 80.4,578.1 80.9,577.6 81.3,578.7 81.8,578.4 82.3,577.3 82.7,577.5 83.2,577.9 83.7,577 84.1,577.9 84.6,578.8 85.1,578.1 85.5,577.8 86,578.1 86.5,577.1 86.9,576.1 87.4,577.5 87.9,577.3 88.3,577.3 88.8,578.3 89.3,578.3 89.7,578.6 90.2,577.7 90.7,577.9 91.2,577.5 91.6,576.6 92.1,576.6 92.6,576.9 93,578.4 93.5,577.2 94,577.2 94.4,577.1 94.9,577.8 95.4,578 95.8,578.4 96.3,578.7 96.8,578.1 97.2,578.1 97.7,577.5 98.2,577.8 98.6,577.8 99.1,577.7 99.6,578.4 100,577.2 100.5,578 101,577.5 101.4,578.3 101.9,577.3 102.4,579.3 102.8,578.3 103.3,578.9 103.8,577.5 104.2,578.5 104.7,578.8 105.2,578.7 105.6,577.8 106.1,578.1 106.6,577.7 107,578.3 107.5,579 108,578.4 108.4,578.2 108.9,577.8 109.4,577 109.8,577.4 110.3,578 110.8,578.7 111.2,577.8 111.7,577.1 112.2,576.6 112.6,577.6 113.1,577.9 113.6,577.8 114,577.7 114.5,578.1 115,577.5 115.4,577.4 115.9,577.9 116.4,577.1 116.8,579 117.3,577.8 117.8,577.7 118.3,578.1 118.7,578.6 119.2,578 119.7,577.3 120.1,577.7 120.6,577.8 121.1,577.7 121.5,578.1 122,578.1 122.5,579.4 122.9,578.1 123.4,577.6 123.9,577.2 124.3,577.9 124.8,577.7 125.3,578.4 125.7,578.1 126.2,577.7 126.7,578.6 127.1,577.7 127.6,578.1 128.1,577.1 128.5,577.7 129,578.3 129.5,578.1 129.9,578.3 130.4,578.2 130.9,577.8 131.3,578.2 131.8,577.4 132.3,577.6 132.7,578 133.2,578 133.7,577.5 134.1,577.3 134.6,578.2 135.1,577.3 135.5,577.4 136,577.6 136.5,576.1 136.9,577.2 137.4,577 137.9,577 138.3,578.6 138.8,577.7 139.3,578.1 139.7,578.1 140.2,578.4 140.7,578.7 141.1,577.8 141.6,577.4 142.1,576.9 142.5,577.9 143,577.8 143.5,577.4 143.9,578 144.4,577.9 144.9,577.3 145.4,577.8 145.8,578.8 146.3,578.5 146.8,578.8 147.2,579.2 147.7,578.3 148.2,578.3 148.6,577.5 149.1,578.3 149.6,577.1 150,577.7 150.5,578.1 151,577.6 151.4,578.7 151.9,578 152.4,577.6 152.8,577.9 153.3,578.6 153.8,577.1 154.2,577.2 154.7,577.6 155.2,578.2 155.6,579.1 156.1,578.1 156.6,579.4 157,578.4 157.5,577.8 158,577.9 158.4,578.5 158.9,578.4 159.4,578.5 159.8,579.3 160.3,578.1 160.8,577.4 161.2,578.4 161.7,577.9 162.2,577.7 162.6,577.4 163.1,577.6 163.6,577.4 164,579.2 164.5,578 165,577.1 165.4,576.9 165.9,577.9 166.4,578.5 166.8,578 167.3,577.2 167.8,577.7 168.2,578 168.7,576.9 169.2,578.7 169.6,577.5 170.1,577 170.6,578.8 171,577.9 171.5,577.9 172,577.4 172.5,578 172.9,577.9 173.4,578.3 173.9,578.2 174.3,577.6 174.8,578.4 175.3,578.6 175.7,576.7 176.2,578.3 176.7,578.1 177.1,578.2 177.6,578.9 178.1,579.2 178.5,577.9 179,579.1 179.5,578.8 179.9,577.9 180.4,578.2 180.9,577.7 181.3,577.4 181.8,576.5 182.3,578 182.7,578 183.2,578.4 183.7,577.6 184.1,578 184.6,576.9 185.1,577.6 185.5,577.7 186,577.8 186.5,577.8 186.9,578.2 187.4,577.1 187.9,578.2 188.3,578.6 188.8,578.2 189.3,578.7 189.7,577.6 190.2,578.1 190.7,578.3 191.1,577.1 191.6,577.6 192.1,577.7 192.5,579 193,577.2 193.5,578.1 193.9,578.1 194.4,577.6 194.9,578 195.3,576.2 195.8,576.5 196.3,578.8 196.7,577.9 197.2,576.7 197.7,577.2 198.2,576.6 198.6,577.5 199.1,579 199.6,578.4 200,577.6 200.5,577.6 201,579 201.4,578.7 201.9,578.4 202.4,579.2 202.8,578.9 203.3,577.5 203.8,577 204.2,578.5 204.7,577.5 205.2,578.9 205.6,578.3 206.1,580.1 206.6,578.2 207,579.2 207.5,577.5 208,577.9 208.4,578.1 208.9,578.9 209.4,577.5 209.8,577.5 210.3,577.2 210.8,578.1 211.2,577.4 211.7,577.8 212.2,578 212.6,577.8 213.1,577.7 213.6,577.3 214,578.3 214.5,576.9 215,577.9 215.4,577.9 215.9,578.2 216.4,579 216.8,578.5 217.3,577.1 217.8,577.1 218.2,577.5 218.7,577 219.2,578.2 219.6,578.7 220.1,577.7 220.6,577.7 221,578.3 221.5,577.5 222,577.6 222.4,578.7 222.9,577.6 223.4,578.1 223.8,578.8 224.3,577.9 224.8,577.4 225.3,577.9 225.7,577.4 226.2,577.5 226.7,577.5 227.1,576.6 227.6,577 228.1,578.7 228.5,576.6 229,577.3 229.5,576.7 229.9,577.4 230.4,577.1 230.9,577.9 231.3,577.2 231.8,577.7 232.3,576.8 232.7,577.1 233.2,577.3 233.7,577.5 234.1,578.3 234.6,577.3 235.1,578.7 235.5,579.4 236,578.4 236.5,578.9 236.9,576.7 237.4,576.7 237.9,577.7 238.3,576.5 238.8,578.1 239.3,578.1 239.7,579.4 240.2,578.7 240.7,577.9 241.1,578.4 241.6,578.3 242.1,577.2 242.5,578.7 243,578.1 243.5,578.9 243.9,577.5 244.4,578.3 244.9,577.8 245.3,578.6 245.8,578 246.3,577.9 246.7,578 247.2,578.6 247.7,577 248.1,577.1 248.6,576.5 249.1,576.3 249.5,577.1 250,577.8 250.5,577.7 250.9,577.5 251.4,577.2 251.9,576.8 252.4,576.5 252.8,576.4 253.3,576.6 253.8,577 254.2,576.3 254.7,578.3 255.2,578.2 255.6,576.7 256.1,578.4 256.6,578.6 257,577.7 257.5,577.4 258,578.8 258.4,577.3 258.9,579 259.4,579.1 259.8,577.7 260.3,578.3 260.8,578.5 261.2,578.3 261.7,579.5 262.2,578.4 262.6,578 263.1,578 263.6,578.2 264,578.9 264.5,579.2 265,578.4 265.4,577.6 265.9,576.8 266.4,578.4 266.8,577.2 267.3,577.9 267.8,577.9 268.2,579.1 268.7,577.8 269.2,578 269.6,578.1 270.1,577.3 270.6,578.3 271,578.3 271.5,578.7 272,576.5 272.4,578.3 272.9,578.2 273.4,578.5 273.8,578 274.3,578.4 274.8,577.6 275.2,576.9 275.7,578.5 276.2,577.3 276.6,577.6 277.1,578.5 277.6,578.8 278.1,578.8 278.5,578.6 279,577.5 279.5,577.7 279.9,577.2 280.4,577.4 280.9,579.1 281.3,578.5 281.8,579.1 282.3,577.7 282.7,577.2 283.2,577.3 283.7,578.5 284.1,578 284.6,577.3 285.1,577.3 285.5,579.1 286,578.1 286.5,578 286.9,578.1 287.4,578.5 287.9,578 288.3,578.1 288.8,576.5 289.3,577.1 289.7,577.1 290.2,577.8 290.7,577.2 291.1,578 291.6,578 292.1,577.3 292.5,577.7 293,577.9 293.5,579.2 293.9,578.3 294.4,578 294.9,578.2 295.3,577.4 295.8,577.1 296.3,577.5 296.7,578.8 297.2,577.2 297.7,579 298.1,579.1 298.6,576.9 299.1,576.8 299.5,577 300,578.6 300.5,578.8 300.9,578.1 301.4,577.6 301.9,578.8 302.3,578.9 302.8,579.5 303.3,578.9 303.7,577.3 304.2,577.1 304.7,578.5 305.2,578.3 305.6,577.8 306.1,577.6 306.6,578.5 307,577.1 307.5,578.4 308,577.8 308.4,577.4 308.9,577.2 309.4,579.1 309.8,578.6 310.3,577.2 310.8,577 311.2,577 311.7,576.6 312.2,577.1 312.6,577.2 313.1,577.4 313.6,577.9 314,578.1 314.5,577.6 315,578.8 315.4,579.2 315.9,578.3 316.4,579.9 316.8,578.7 317.3,578 317.8,578.2 318.2,577.6 318.7,577.2 319.2,576.4 319.6,577.8 320.1,577.2 320.6,577.4 321,576.5 321.5,577 322,578.7 322.4,578.6 322.9,578.6 323.4,577.8 323.8,577.9 324.3,576.8 324.8,578.5 325.2,576.5 325.7,576.8 326.2,577.2 326.6,577.5 327.1,578 327.6,577.6 328,577.3 328.5,578.8 329,576.6 329.4,577.8 329.9,577.3 330.4,577.6 330.8,576.4 331.3,577 331.8,576.4 332.3,577.5 332.7,578.3 333.2,577.8 333.7,577.7 334.1,576.1 334.6,579 335.1,577.3 335.5,577.3 336,578.6 336.5,577.7 336.9,576.3 337.4,576.7 337.9,578.8 338.3,577.2 338.8,577.7 339.3,576.7 339.7,577.3 340.2,577.4 340.7,578.6 341.1,578.5 341.6,578.2 342.1,577.8 342.5,577 343,577.9 343.5,579.3 343.9,578.3 344.4,577.3 344.9,577.8 345.3,578.7 345.8,578.6 346.3,577.8 346.7,578.8 347.2,577.4 347.7,578.3 348.1,578.3 348.6,577.3 349.1,578.6 349.5,577.4 350,577.3 350.5,577.9 350.9,577.7 351.4,578 351.9,577.6 352.3,577.1 352.8,577.8 353.3,578.4 353.7,579 354.2,579.4 354.7,577.3 355.1,577.4 355.6,577.6 356.1,578.4 356.5,577.1 357,579.4 357.5,578.4 357.9,577.3 358.4,578 358.9,577.6 359.4,577.8 359.8,578.4 360.3,577 360.8,577.1 361.2,576.9 361.7,577.5 362.2,577.3 362.6,577.3 363.1,577.1 363.6,575.9 364,577.2 364.5,577.4 365,578.7 365.4,579.8 365.9,578.3 366.4,578.1 366.8,578.5 367.3,579.2 367.8,577.5 368.2,577.8 368.7,578.6 369.2,577.3 369.6,576.6 370.1,577.4 370.6,578.2 371,577.2 371.5,577.3 372,577.2 372.4,577.3 372.9,578.4 373.4,577.8 373.8,577.5 374.3,577.5 374.8,577.4 375.2,578 375.7,577.6 376.2,576.9 376.6,577.6 377.1,576.4 377.6,578.1 378,577.2 378.5,577.2 379,577.6 379.4,577.5 379.9,577.8 380.4,577.9 380.8,578.1 381.3,577.6 381.8,577.7 382.2,576.8 382.7,576.9 383.2,576.7 383.6,579.4 384.1,578.2 384.6,578.5 385.1,578 385.5,577.5 386,576.7 386.5,577.6 386.9,577.4 387.4,577.7 387.9,577.3 388.3,578.4 388.8,578.5 389.3,577.5 389.7,577.8 390.2,579.1 390.7,577.5 391.1,578.1 391.6,577.9 392.1,577.9 392.5,577.9 393,578.5 393.5,577.9 393.9,578 394.4,577.9 394.9,578.4 395.3,578.8 395.8,578.8 396.3,578.3 396.7,577.8 397.2,577.9 397.7,577.7 398.1,576.5 398.6,577.6 399.1,578 399.5,578.4 400,578.3 400.5,578 400.9,577.8 401.4,578.2 401.9,577.4 402.3,578 402.8,577.1 403.3,578.5 403.7,578.1 404.2,577.4 404.7,578.4 405.1,578.2 405.6,577.5 406.1,578.4 406.5,578 407,578.1 407.5,577.9 407.9,578.1 408.4,577.4 408.9,577.8 409.3,578.5 409.8,576.4 410.3,577.3 410.7,578.1 411.2,578.4 411.7,576.6 412.2,577.2 412.6,577.8 413.1,578.2 413.6,578.3 414,576.7 414.5,577.5 415,576.4 415.4,578.5 415.9,578.9 416.4,576.3 416.8,576.8 417.3,577.3 417.8,577 418.2,577.8 418.7,577.6 419.2,577.7 419.6,578.4 420.1,577.3 420.6,577.4 421,577.6 421.5,577.4 422,578.2 422.4,578.3 422.9,578.3 423.4,578.5 423.8,577.2 424.3,578.5 424.8,577.4 425.2,577.4 425.7,577 426.2,576.9 426.6,577.8 427.1,578.3 427.6,578 428,577.2 428.5,577.8 429,576.2 429.4,575.9 429.9,576.8 430.4,577.5 430.8,577.6 431.3,577.7 431.8,578.4 432.2,577.8 432.7,577.5 433.2,577.7 433.6,577.3 434.1,577.1 434.6,577 435,577.4 435.5,577 436,577 436.4,578 436.9,577.7 437.4,577.3 437.8,578.3 438.3,577.4 438.8,577.2 439.3,577.7 439.7,577.7 440.2,578.2 440.7,578.2 441.1,577.8 441.6,577.5 442.1,578.4 442.5,577.2 443,578.1 443.5,577.4 443.9,577.6 444.4,577.8 444.9,577.1 445.3,577.3 445.8,577.2 446.3,575.9 446.7,576.9 447.2,576.3 447.7,577.2 448.1,577.9 448.6,576.8 449.1,577.4 449.5,577.3 450,578.1 450.5,576.6 450.9,577.9 451.4,578.3 451.9,577 452.3,577.3 452.8,578 453.3,577.5 453.7,577.4 454.2,577 454.7,576.9 455.1,577 455.6,576.9 456.1,579 456.5,578.2 457,578 457.5,577.8 457.9,576.6 458.4,578.1 458.9,579.5 459.3,579.2 459.8,578.3 460.3,578.7 460.7,578.2 461.2,577.9 461.7,578.6 462.1,577.5 462.6,578.2 463.1,578.4 463.5,578 464,579 464.5,578.7 465,577.4 465.4,577.4 465.9,577.9 466.4,577 466.8,576.8 467.3,577.5 467.8,578.1 468.2,576.6 468.7,577.7 469.2,576.4 469.6,576 470.1,577.6 470.6,578.3 471,577.8 471.5,577.5 472,577.6 472.4,577.5 472.9,576 473.4,577.7 473.8,577.3 474.3,577.9 474.8,578.4 475.2,577 475.7,578.3 476.2,578.1 476.6,577.7 477.1,579.3 477.6,577.8 478,577.5 478.5,578.3 479,578.2 479.4,578.8 479.9,577.4 480.4,577.7 480.8,577.4 481.3,576.7 481.8,577.5 482.2,577.7 482.7,577.4 483.2,578.3 483.6,577.2 484.1,578.1 484.6,579.6 485,578.6 485.5,579.1 486,578 486.4,578.2 486.9,577.8 487.4,577.6 487.8,577.6 488.3,577.7 488.8,578.7 489.2,576.9 489.7,579.2 490.2,579.6 490.6,578.1 491.1,578.3 491.6,577.6 492.1,578.6 492.5,578.1 493,578.1 493.5,576.6 493.9,577.9 494.4,578.4 494.9,579.5 495.3,579 495.8,580 496.3,578.2 496.7,577.6 497.2,579.5 497.7,578.6 497.9,578.6 498.9,576.9 499.8,574.4 500.7,572.6 501.7,571 502.6,568.1 503.5,565.9 504.5,565.1 505.4,562.6 506.3,560.3 507.3,558.5 508.2,556.9 509.1,554 510.1,552 511,550.2 511.9,548.8 512.9,545.5 513.8,543.7 514.7,543.1 515.7,540.9 516.6,538.2 517.5,537.5 518.5,534.8 519.4,533.1 520.4,531.6 521.3,529.3 522.2,528.2 523.2,525.6 524.1,524.6 525,520 526,518.5 526.9,516.7 527.8,515.4 528.8,513 529.7,510.9 530.6,509.1 531.6,507.2 532.5,506.4 533.4,503.6 534.4,502.2 535.3,500.7 536.2,498.7 537.2,495.8 538.1,493.5 539,493 540,489.1 540.9,487.4 541.8,486.6 542.8,484.7 543.7,482.5 544.6,479.9 545.6,478.8 546.5,477.3 547.5,474.4 548.4,474 549.3,470.7 550.3,468.1 551.2,466.7 552.1,464.4 553.1,462.7 554,460.6 554.9,459 555.9,457.6 556.8,455.3 557.7,453.3 558.7,450.5 559.6,448.3 560.5,447.1 561.5,445.9 562.4,443.9 563.3,441.6 564.3,438.7 565.2,437.4 566.1,435.7 567.1,434.2 567.8,432.5 567.8,678.9 568,678.2 568.9,676.6 569.9,674.9 570.8,672.9 571.8,670 572.7,669.2 573.6,666.1 574.6,664.5 575.5,663.3 576.4,660.9 577.4,659.5 578.3,658.1 579.2,655.8 580.2,654.3 581.1,651.5 582,649.8 583,647.6 583.9,645.5 584.8,646 585.8,642 586.7,641.3 587.6,638.2 588.6,636.9 589.5,634.4 590.4,631.7 591.4,631.7 592.3,628.6 593.2,626.8 594.2,626 595.1,622.5 596,621 597,619.4 597.9,617.6 598.9,613.2 599.8,613.5 600.7,612.5 601.7,610 602.6,607.8 603.5,605.8 604.5,603.7 605.4,602.4 606.3,599.5 607.3,598.2 608.2,596.8 609.1,594.6 610.1,592.4 611,589.7 611.9,588 612.9,586.6 613.8,584.4 614.7,582.4 615.7,579.3 616.6,579.1 617.5,576.5 618.5,574.4 619.4,573.5 620.3,570.9 621.3,568.9 622.2,567.4 623.1,564.9 624.1,562.6 625,560.7 626,559.5 626.9,557.4 627.8,554.1 628.8,554.3 629.7,551.6 630.6,549.3 631.6,547.8 632.5,545.6 633.4,543.9 634.4,541.7 635.3,539.4 636.2,538.4 637.2,536.2 638.1,534.5 639,532.7 640,530.6 640.9,529.3 641.8,526.3 642.8,523.8 643.7,521.8 644.6,520.2 645.6,519.6 646.5,516.2 647.4,515.6 648.4,513.3 649.3,510.2 650.2,510.1 651.2,507 652.1,505.4 653.1,503.7 654,502.3 654.9,499.5 655.9,498.2 656.8,495.3 657.7,493.3 658.7,492.9 659.6,490.5 660.5,488.4 661.5,487.1 662.4,485.1 663.3,482.4 664.3,480.7 665.2,479.6 666.1,477 667.1,474.5 668,473.6 668.9,471.5 669.9,468 670.8,466.3 671.7,466.2 672.7,464.1 673.6,461.1 674.5,460.1 675.5,457.6 676.4,455.8 677.3,453.3 678.3,453.3 679.2,451.1 680.2,448.6 681.1,445.3 682,444.1 683,443.1 683.9,439.8 684.8,437.8 685.8,436.5 686.7,434.6 687.6,432.5 687.6,432.5 687.6,678.9 688.6,676.5 689.5,675.3 690.4,673.1 691.4,671.5 692.3,669.8 693.2,668.2 694.2,665.6 695.1,664 696,662 697,659.4 697.9,657.7 698.8,655.6 699.8,655.2 700.7,651.9 701.6,650.7 702.6,648.9 703.5,647 704.4,643.8 705.4,642.1 706.3,641.2 707.3,639.5 708.2,636.9 709.1,635.2 710.1,632 711,632 711.9,630.3 712.9,627.4 713.8,625.3 714.7,623.3 715.7,621 716.6,618.3 717.5,617.8 718.5,616 719.4,614.9 720.3,611.7 721.3,609.4 722.2,608.2 723.1,605.4 724.1,604.1 725,601.3 725.9,600.1 726.9,599 727.8,596.9 728.7,595.5 729.7,593.7 730.6,590.5 731.5,588.2 732.5,585.6 733.4,585 734.4,583.1 735.3,581.8 736.2,578.5 737.2,577 738.1,575.7 739,573 740,571.1 740.9,570.7 741.8,567.1 742.8,565.6 743.7,564 744.6,562.1 745.6,558.8 746.5,557 747.4,554.9 748.4,554.8 749.3,552.6 750.2,549.7 751.2,549.1 752.1,546.9 753,545.6 754,541.5 754.9,540 755.8,538.5 756.8,536.7 757.7,535.2 758.7,533.2 759.6,530.7 760.5,529.6 761.5,526.4 762.4,525.6 763.3,523.9 764.3,520.6 765.2,519.6 766.1,517.2 767.1,515.9 768,515.1 768.9,511.5 769.9,510.7 770.8,507.3 771.7,507 772.7,505.3 773.6,502 774.5,500 775.5,498.3 776.4,497.2 777.3,494 778.3,493.5 779.2,490.9 780.1,489.2 781.1,487 782,484.4 782.9,483.3 783.9,480.7 784.8,478.7 785.8,478.2 786.7,476 787.6,473.6 788.6,471.8 789.5,469.3 790.4,468.8 791.4,465.2 792.3,463.3 793.2,461.9 794.2,460.7 795.1,457.9 796,456.4 797,453.7 797.9,452.2 798.8,449.8 799.8,448.6 800.7,445.5 801.6,445.9 802.6,443.2 803.5,440.3 804.4,439.6 805.4,436.3 806.3,435.6 807.2,432.9 807.2,432.5 807.2,678.9 808.2,677.8 809.1,675.6 810,673.3 811,671.6 811.9,669.8 812.9,666.3 813.8,665.7 814.7,664.4 815.7,661.3 816.6,659.4 817.5,657.3 818.5,655 819.4,654.8 820.3,651.6 821.3,649.6 822.2,648.4 823.1,646.3 824.1,646.4 825,643 825.9,639.6 826.9,639.9 827.8,637.2 828.7,634.8 829.7,632.7 830.6,630.1 831.5,630.3 832.5,627.2 833.4,624.8 834.3,624.2 835.3,621.5 836.2,618.4 837.1,616.8 838.1,615.4 839,615.4 840,611.9 840.9,609.7 841.8,608.2 842.8,606.1 843.7,602.3 844.6,602.4 845.6,600.9 846.5,598.2 847.4,596.7 848.4,594.7 849.3,592.7 850.2,590.2 851.2,588.6 852.1,587.6 853,585 854,582.7 854.9,581.4 855.8,578.4 856.8,576.7 857.7,575.9 858.6,573.2 859.6,570.2 860.5,568.6 861.4,567.6 862.4,565.1 863.3,564.2 864.2,562.7 865.2,559.6 866.1,557.8 867.1,555.7 868,554.2 868.9,552 869.9,550.6 870.8,548.1 871.7,545.9 872.7,544.6 873.6,542.1 874.5,541.8 875.5,539.2 876.4,535.9 877.3,533.8 878.3,532.8 879.2,531.1 880.1,529.9 881.1,527 882,524.8 882.9,524.3 883.9,521.1 884.8,519.2 885.7,517.3 886.7,516.4 887.6,513.4 888.5,512.7 889.5,509 890.4,507.9 891.3,506.8 892.3,503.3 893.2,501.5 894.2,500.7 895.1,497 896,497 897,494.3 897.9,491.8 898.8,492.1 899.8,488.1 900.7,486.8 901.6,484.9 902.6,483.6 903.5,480.8 904.4,479.8 905.4,477.8 906.3,475.5 907.2,474.1 908.2,470.4 909.1,470.3 910,468 911,465.8 911.9,463.7 912.8,461.3 913.8,459.4 914.7,458.1 915.6,456.3 916.6,454.1 917.5,451.7 918.4,449.8 919.4,448.6 920.3,447.7 921.3,443.2 922.2,442 923.1,440.5 924.1,438.5 925,437.1 925.9,435.5 926.6,432.5 926.6,678.9 926.9,678.9 927.8,676.9 928.7,675.3 929.7,673.8 930.6,671.2 931.5,668.7 932.5,667.5 933.4,665.2 934.3,664.6 935.3,661.5 936.2,659.5 937.1,658.3 938.1,656.7 939,653.4 939.9,652.3 940.9,649.6 941.8,648.2 942.7,645.6 943.7,644.3 944.6,643.1 945.6,640.3 946.5,638.5 947.4,636 948.4,634.7 949.3,632.8 950.2,630.1 951.2,628 952.1,626.3 953,624.2 954,622.6 954.9,620.5 955.8,618.5 956.8,616.9 957.7,615.2 958.6,613.2 959.6,609.9 960.5,609.4 961.4,607.7 962.4,605.8 963.3,603.7 964.2,601.6 965.2,600.5 966.1,599.1 967,595.8 968,595.1 968.9,592 969.8,590.1 970.8,587.6 971.7,585.3 972.7,584.2 973.6,582.9 974.5,581.3 975.5,579.2 976.4,576.7 977.3,576.1 978.3,572.9 979.2,571 980.1,568.7 981.1,567.3 982,565.1 982.9,563.7 983.9,561.6 984.8,560.5 985.7,557.4 986.7,554.6 987.6,553.6 988.5,551.5 989.5,550.4 990.4,547 991.3,546.4 992.3,543.5 993.2,542.1 994.1,540.8 995.1,537.6 996,536.3 996.9,534.3 997.9,532.2 998.8,530.6 999.8,528.9 1000.7,526.4 1001.6,525.1 1002.6,522.8 1003.5,521.4 1004.4,519.9 1005.4,517.5 1006.3,515.5 1007.2,513.2 1008.2,510.6 1009.1,510.5 1010,507.4 1011,506.9 1011.9,504.3" fill="none" stroke="#EDB120" stroke-width="2.8" stroke-linejoin="round"/></g>
<rect x="90.9" y="428.7" width="117.8" height="110.2" fill="#fff" stroke="#262626" stroke-width="1.15"/>
<line x1="97.8" x2="166.6" y1="448.4" y2="448.4" stroke="#0072BD" stroke-width="2.6"/>
<line x1="97.8" x2="166.6" y1="483.4" y2="483.4" stroke="#D95319" stroke-width="2.6"/>
<line x1="97.8" x2="166.6" y1="518.9" y2="518.9" stroke="#EDB120" stroke-width="2.6"/>
<rect x="267.8" y="427.3" width="207.6" height="114.2" fill="#fff"/>
<clipPath id="c4"><rect x="266.5" y="426" width="210.2" height="116.8"/></clipPath>
<path d="M294.9 541.5v-2.6M294.9 427.3v2.6M334.8 541.5v-2.6M334.8 427.3v2.6M374.7 541.5v-2.6M374.7 427.3v2.6M414.5 541.5v-2.6M414.5 427.3v2.6M454.3 541.5v-2.6M454.3 427.3v2.6M267.8 535.8h2.6M475.4 535.8h-2.6M267.8 445.1h2.6M475.4 445.1h-2.6" stroke="#262626" stroke-width="1.55" fill="none"/>
<rect x="267.8" y="427.3" width="207.6" height="114.2" fill="none" stroke="#262626" stroke-width="1.55"/>
<g clip-path="url(#c4)"><polyline points="267.8,486.6 414.5,486.6 460.4,427.3 482.2,399.2" fill="none" stroke="#0072BD" stroke-width="2.6" stroke-linejoin="round"/></g>
<g clip-path="url(#c4)"><polyline points="267.8,497 285,494.2 295.1,494.5 304.9,494 315.1,494.8 324.9,491.8 334.7,492.9 344.8,492.1 354.7,492.1 364.8,493.1 374.9,491.5 384.7,487.4 394.8,486 404.6,485.8 414.5,488.2 424.9,489.6 472.7,427.3 482.2,415" fill="none" stroke="#D95319" stroke-width="2.6" stroke-linejoin="round"/></g>
<g clip-path="url(#c4)"><polyline points="265.2,505.2 275.2,512 285.1,518.8 295.1,531.7 305.1,528.9 315.1,526.2 325,516.1 335,497.8 345,521.6 354.9,516.6 364.9,507.1 374.9,497.8 384.8,508.7 394.8,485.5 404.8,487.1 414.8,488.8 424.7,510.1 434.7,506 444.7,470.5 454.6,488 464.6,432.2 474.6,443.7 484.4,416.4" fill="none" stroke="#EDB120" stroke-width="2.6" stroke-linejoin="round"/></g>
<text x="334.8" y="570.7" class="t" text-anchor="middle">8.96</text>
<text x="414.5" y="570.7" class="t" text-anchor="middle">9</text>
<text x="258.3" y="543.5" class="t" text-anchor="end">145</text>
<text x="258.3" y="452.9" class="t" text-anchor="end">150</text>
<path d="M166.3 1079.8v-9.3M166.3 805.5v9.3M260.5 1079.8v-9.3M260.5 805.5v9.3M354.8 1079.8v-9.3M354.8 805.5v9.3M449 1079.8v-9.3M449 805.5v9.3M543.3 1079.8v-9.3M543.3 805.5v9.3M637.5 1079.8v-9.3M637.5 805.5v9.3M731.8 1079.8v-9.3M731.8 805.5v9.3M826 1079.8v-9.3M826 805.5v9.3M920.3 1079.8v-9.3M920.3 805.5v9.3M72 1034.1h9.3M1014.5 1034.1h-9.3M72 988.4h9.3M1014.5 988.4h-9.3M72 942.6h9.3M1014.5 942.6h-9.3M72 896.9h9.3M1014.5 896.9h-9.3M72 851.2h9.3M1014.5 851.2h-9.3" stroke="#262626" stroke-width="1.55" fill="none"/>
<rect x="72" y="805.5" width="942.5" height="274.3" fill="none" stroke="#262626" stroke-width="1.55"/>
<text x="72" y="1109" class="t" text-anchor="middle">0</text>
<text x="166.3" y="1109" class="t" text-anchor="middle">2</text>
<text x="260.5" y="1109" class="t" text-anchor="middle">4</text>
<text x="354.8" y="1109" class="t" text-anchor="middle">6</text>
<text x="449" y="1109" class="t" text-anchor="middle">8</text>
<text x="543.3" y="1109" class="t" text-anchor="middle">10</text>
<text x="637.5" y="1109" class="t" text-anchor="middle">12</text>
<text x="731.8" y="1109" class="t" text-anchor="middle">14</text>
<text x="826" y="1109" class="t" text-anchor="middle">16</text>
<text x="920.3" y="1109" class="t" text-anchor="middle">18</text>
<text x="1014.5" y="1109" class="t" text-anchor="middle">20</text>
<text x="63.3" y="1087.5" class="t" text-anchor="end">40</text>
<text x="63.3" y="1041.8" class="t" text-anchor="end">60</text>
<text x="63.3" y="996.1" class="t" text-anchor="end">80</text>
<text x="63.3" y="950.4" class="t" text-anchor="end">100</text>
<text x="63.3" y="904.7" class="t" text-anchor="end">120</text>
<text x="63.3" y="859" class="t" text-anchor="end">140</text>
<text x="63.3" y="813.2" class="t" text-anchor="end">160</text>
<clipPath id="c5"><rect x="70.8" y="804.2" width="945.1" height="276.9"/></clipPath>
<g clip-path="url(#c5)"><polyline points="72,1034.1 1014.5,1034.1" fill="none" stroke="#0072BD" stroke-width="2.6" stroke-linejoin="round"/></g>
<g clip-path="url(#c5)"><polyline points="72,1015.8 72,1079.8 72.5,1039.3 73,1036.9 73.5,1036.6 73.9,1040.3 74.4,1038.6 74.9,1040.3 75.3,1038.6 75.8,1039.7 76.3,1040.6 76.8,1035.2 77.2,1042.1 77.7,1040.2 78.2,1039.4 78.6,1037.1 79.1,1038.5 79.6,1036.1 80.1,1034.1 80.5,1036.1 81,1034 81.5,1033.8 81.9,1035.2 82.4,1032.1 82.9,1033.8 83.4,1035.1 83.8,1032.8 84.3,1027.7 84.8,1030.8 85.2,1038.9 85.7,1030.8 86.2,1033 86.7,1034.8 87.1,1032.4 87.6,1028.3 88.1,1030.2 88.5,1036.7 89,1028.6 89.5,1036.8 90,1031.2 90.4,1035.4 90.9,1030.9 91.4,1035.7 91.8,1035.5 92.3,1037.1 92.8,1037.4 93.3,1036.5 93.7,1038.1 94.2,1031.1 94.7,1033.9 95.1,1036.3 95.6,1035.4 96.1,1036.5 96.6,1035.7 97,1036.9 97.5,1032.3 98,1038.4 98.4,1036.2 98.9,1036.1 99.4,1032.4 99.9,1033.9 100.3,1030.5 100.8,1032.1 101.3,1034.5 101.7,1043.5 102.2,1036 102.7,1037.5 103.2,1036 103.6,1037.3 104.1,1036.7 104.6,1035 105,1037 105.5,1034.5 106,1037.9 106.4,1034.9 106.9,1037.1 107.4,1040.5 107.9,1037.5 108.3,1037.7 108.8,1032 109.3,1034.4 109.7,1035.5 110.2,1033.3 110.7,1037.2 111.2,1034.2 111.6,1039 112.1,1034.8 112.6,1034.8 113,1036.7 113.5,1035.9 114,1034.8 114.5,1034.9 114.9,1035.7 115.4,1037.4 115.9,1040.2 116.3,1039.3 116.8,1034.8 117.3,1034.7 117.8,1033.4 118.2,1036.7 118.7,1031.7 119.2,1029.7 119.6,1031.4 120.1,1029.6 120.6,1039.9 121.1,1036.8 121.5,1036.2 122,1033.9 122.5,1037.4 122.9,1036 123.4,1036.7 123.9,1039.3 124.4,1042.6 124.8,1038.9 125.3,1033.4 125.8,1036.6 126.2,1039.7 126.7,1037.3 127.2,1039.3 127.7,1036.6 128.1,1036.3 128.6,1037.6 129.1,1041.6 129.5,1041.4 130,1036.8 130.5,1037.2 131,1041.8 131.4,1036.8 131.9,1036.9 132.4,1041 132.8,1035.5 133.3,1042.7 133.8,1040.2 134.3,1041.4 134.7,1038 135.2,1045.1 135.7,1040.1 136.1,1039.3 136.6,1037 137.1,1040.1 137.6,1035.2 138,1035.5 138.5,1039.7 139,1035 139.4,1031.7 139.9,1039 140.4,1040.9 140.8,1036.7 141.3,1036.4 141.8,1035.4 142.3,1035.4 142.7,1029.6 143.2,1035.1 143.7,1031.4 144.1,1027.9 144.6,1033.5 145.1,1029.4 145.6,1027.5 146,1029.6 146.5,1028.8 147,1029.1 147.4,1023.5 147.9,1022.1 148.4,1029.2 148.9,1023.3 149.3,1020.2 149.8,1017.1 150.3,1020.2 150.7,1018.9 151.2,1021.8 151.7,1020.7 152.2,1024.2 152.6,1020.4 153.1,1022.4 153.6,1023 154,1024.1 154.5,1020.9 155,1021.5 155.5,1020.8 155.9,1022.8 156.4,1027.3 156.9,1025.1 157.3,1020.2 157.8,1021.6 158.3,1024.5 158.8,1029.4 159.2,1026 159.7,1026.6 160.2,1029.2 160.6,1028.7 161.1,1026.1 161.6,1029.6 162.1,1031.5 162.5,1030.2 163,1028.8 163.5,1031.6 163.9,1028.3 164.4,1033.1 164.9,1033.7 165.4,1029.2 165.8,1033.8 166.3,1034.1 166.8,1034.8 167.2,1033 167.7,1031.8 168.2,1037.9 168.7,1034.3 169.1,1036.2 169.6,1034 170.1,1031.4 170.5,1033.1 171,1036.1 171.5,1033.9 171.9,1034.9 172.4,1036.6 172.9,1037 173.4,1033.8 173.8,1033.5 174.3,1032.3 174.8,1032.4 175.2,1034.4 175.7,1035.6 176.2,1036.7 176.7,1036.3 177.1,1039.1 177.6,1033.7 178.1,1040.1 178.5,1032.2 179,1039.8 179.5,1041.1 180,1036.7 180.4,1034 180.9,1033.2 181.4,1029.3 181.8,1037.8 182.3,1034.7 182.8,1037.9 183.3,1033.4 183.7,1035.7 184.2,1036.9 184.7,1038.7 185.1,1034.3 185.6,1034.8 186.1,1038.1 186.6,1035.2 187,1028.9 187.5,1036.6 188,1037 188.4,1035.1 188.9,1039.8 189.4,1032.9 189.9,1036.2 190.3,1039 190.8,1036.6 191.3,1033.7 191.7,1040.5 192.2,1040 192.7,1037.7 193.2,1033.6 193.6,1036.9 194.1,1036.7 194.6,1036 195,1038.6 195.5,1039.9 196,1042.3 196.5,1039.2 196.9,1031.1 197.4,1034.8 197.9,1036.4 198.3,1036.7 198.8,1038.3 199.3,1041.9 199.8,1036.6 200.2,1043.1 200.7,1042.5 201.2,1043.9 201.6,1039.1 202.1,1043.8 202.6,1041 203.1,1038.6 203.5,1035.5 204,1037.1 204.5,1032.2 204.9,1035 205.4,1034 205.9,1036.4 206.3,1035.8 206.8,1038.3 207.3,1038.7 207.8,1033 208.2,1038.2 208.7,1038.1 209.2,1039.4 209.6,1038.4 210.1,1031.1 210.6,1039.9 211.1,1036.7 211.5,1034.7 212,1033.5 212.5,1033.4 212.9,1036.4 213.4,1041.5 213.9,1036.2 214.4,1040.7 214.8,1037.4 215.3,1037.1 215.8,1036.6 216.2,1032.1 216.7,1038.1 217.2,1034.8 217.7,1036.7 218.1,1037 218.6,1040.6 219.1,1033 219.5,1035 220,1031.5 220.5,1033.3 221,1037.2 221.4,1033.1 221.9,1035.2 222.4,1030.5 222.8,1032.2 223.3,1038.6 223.8,1030.6 224.3,1037.4 224.7,1035 225.2,1037.1 225.7,1036.6 226.1,1035.7 226.6,1030.6 227.1,1033.9 227.6,1036 228,1033.6 228.5,1034.3 229,1035.4 229.4,1030.9 229.9,1036.3 230.4,1038.8 230.9,1035.5 231.3,1034.2 231.8,1037.7 232.3,1040.9 232.7,1033.6 233.2,1037.4 233.7,1036.7 234.2,1040.2 234.6,1037.1 235.1,1041.1 235.6,1037.3 236,1038.1 236.5,1037.9 237,1038.3 237.4,1039.1 237.9,1041.2 238.4,1036.8 238.9,1041.6 239.3,1043.8 239.8,1041.4 240.3,1044.2 240.7,1037 241.2,1040.4 241.7,1041.7 242.2,1045.9 242.6,1046.8 243.1,1040.7 243.6,1043.9 244,1040.7 244.5,1044.6 245,1036.7 245.5,1033.9 245.9,1041.5 246.4,1042.7 246.9,1042.2 247.3,1036.8 247.8,1035.3 248.3,1036.2 248.8,1037.8 249.2,1038.1 249.7,1038.2 250.2,1033.2 250.6,1039.2 251.1,1036.3 251.6,1043.2 252.1,1033.5 252.5,1038.7 253,1036.2 253.5,1040.2 253.9,1038.4 254.4,1040.7 254.9,1034.9 255.4,1040.6 255.8,1038.9 256.3,1037.4 256.8,1036.3 257.2,1040.3 257.7,1028.5 258.2,1031.8 258.7,1030.2 259.1,1033.4 259.6,1033 260.1,1030.5 260.5,1036.6 261,1037.8 261.5,1035.3 262,1029.4 262.4,1029.5 262.9,1034.3 263.4,1033.7 263.8,1030.2 264.3,1033.2 264.8,1037.2 265.3,1039.4 265.7,1037.2 266.2,1034.6 266.7,1033.2 267.1,1035.8 267.6,1035.4 268.1,1031.2 268.6,1036.4 269,1030.5 269.5,1028.1 270,1036.5 270.4,1032.4 270.9,1033.2 271.4,1030.4 271.8,1039 272.3,1033 272.8,1035 273.3,1035.1 273.7,1038 274.2,1039.3 274.7,1040.8 275.1,1036.5 275.6,1037.2 276.1,1036.4 276.6,1037.9 277,1041.6 277.5,1036.5 278,1036.3 278.4,1035.2 278.9,1034.5 279.4,1035.4 279.9,1031.3 280.3,1035.7 280.8,1038.6 281.3,1033.9 281.7,1038.3 282.2,1036.3 282.7,1039.6 283.2,1031.1 283.6,1034.4 284.1,1032.9 284.6,1032.5 285,1037.6 285.5,1037.9 286,1034.5 286.5,1035.4 286.9,1039.9 287.4,1031.5 287.9,1035.1 288.3,1032.3 288.8,1031.7 289.3,1032.6 289.8,1033.1 290.2,1034.6 290.7,1032.7 291.2,1037.5 291.6,1037.7 292.1,1033.2 292.6,1035.6 293.1,1031.8 293.5,1036.3 294,1036.6 294.5,1032.6 294.9,1037.9 295.4,1031.6 295.9,1035.7 296.4,1034.5 296.8,1034.5 297.3,1037 297.8,1038.1 298.2,1036.4 298.7,1037.8 299.2,1035.9 299.7,1042.5 300.1,1037 300.6,1038.3 301.1,1031.6 301.5,1037.6 302,1036.3 302.5,1040.3 303,1039.3 303.4,1035.9 303.9,1037.9 304.4,1038.8 304.8,1036.2 305.3,1035.5 305.8,1042.2 306.2,1032.9 306.7,1030.8 307.2,1035.8 307.7,1032 308.1,1032.1 308.6,1032.4 309.1,1034.5 309.5,1031.2 310,1030.1 310.5,1030.7 311,1032.8 311.4,1033.1 311.9,1031.8 312.4,1034 312.8,1032.2 313.3,1030.6 313.8,1030.3 314.3,1033.6 314.7,1030.2 315.2,1033.3 315.7,1040.8 316.1,1035.8 316.6,1031.5 317.1,1032.7 317.6,1039.1 318,1040 318.5,1044.4 319,1038.8 319.4,1034.9 319.9,1036.9 320.4,1034.9 320.9,1030.9 321.3,1031.9 321.8,1033.7 322.3,1037.9 322.7,1038.5 323.2,1034.4 323.7,1035.7 324.2,1031.9 324.6,1035.1 325.1,1032 325.6,1034.7 326,1035.6 326.5,1038.4 327,1035.3 327.5,1034.6 327.9,1034.8 328.4,1031.7 328.9,1035.8 329.3,1034.7 329.8,1036.8 330.3,1039 330.8,1039.1 331.2,1035.4 331.7,1040 332.2,1038.8 332.6,1029.8 333.1,1033.9 333.6,1034.2 334.1,1036.6 334.5,1027.3 335,1029.6 335.5,1028.6 335.9,1032.3 336.4,1035.7 336.9,1036 337.3,1034.7 337.8,1033.7 338.3,1038.1 338.8,1037.4 339.2,1032.4 339.7,1034.5 340.2,1029.5 340.6,1039.6 341.1,1035.5 341.6,1038.1 342.1,1037.1 342.5,1037.3 343,1031.5 343.5,1030.4 343.9,1035.8 344.4,1035.6 344.9,1035.2 345.4,1034.7 345.8,1039.6 346.3,1032.3 346.8,1035.3 347.2,1028.8 347.7,1035.2 348.2,1031.3 348.7,1034.8 349.1,1031.9 349.6,1033.9 350.1,1036.7 350.5,1029.6 351,1034.8 351.5,1032 352,1038.3 352.4,1034.6 352.9,1032.8 353.4,1029.5 353.8,1029.1 354.3,1034.6 354.8,1034.2 355.3,1029.8 355.7,1033.3 356.2,1031.9 356.7,1034.4 357.1,1036 357.6,1031.6 358.1,1036.9 358.6,1034.2 359,1033.6 359.5,1038.1 360,1037.4 360.4,1030.6 360.9,1032.8 361.4,1033.4 361.9,1036.1 362.3,1029.6 362.8,1031.4 363.3,1033.6 363.7,1033.2 364.2,1033.4 364.7,1035.5 365.2,1035.2 365.6,1035.9 366.1,1037.1 366.6,1032.4 367,1035.7 367.5,1037 368,1035.9 368.5,1039.1 368.9,1037.8 369.4,1041.6 369.9,1034 370.3,1033 370.8,1032.8 371.3,1036.8 371.7,1039.2 372.2,1034.7 372.7,1037.7 373.2,1037.3 373.6,1042.8 374.1,1033.3 374.6,1035 375,1032.5 375.5,1034.2 376,1028.7 376.5,1032.7 376.9,1036.2 377.4,1040.4 377.9,1040.3 378.3,1030.2 378.8,1034.3 379.3,1028.9 379.8,1032.1 380.2,1036.6 380.7,1037.3 381.2,1034 381.6,1037.6 382.1,1043.8 382.6,1037.3 383.1,1046.7 383.5,1038.1 384,1039.4 384.5,1036 384.9,1039.9 385.4,1038.1 385.9,1034.8 386.4,1038 386.8,1032.9 387.3,1030.7 387.8,1033.3 388.2,1038.1 388.7,1032.9 389.2,1036.2 389.7,1035.8 390.1,1028.2 390.6,1033.4 391.1,1036.4 391.5,1038 392,1035.8 392.5,1038.4 393,1036.6 393.4,1032.2 393.9,1035.4 394.4,1034.9 394.8,1028.4 395.3,1032.6 395.8,1031.8 396.3,1034.7 396.7,1034.8 397.2,1034.5 397.7,1032.3 398.1,1034.8 398.6,1032.7 399.1,1032.2 399.6,1038.7 400,1036.4 400.5,1028.9 401,1032.4 401.4,1032.1 401.9,1028.2 402.4,1028 402.8,1032.1 403.3,1034.9 403.8,1031.3 404.3,1033.6 404.7,1033.9 405.2,1032 405.7,1035.1 406.1,1030.8 406.6,1026.7 407.1,1029.9 407.6,1030.1 408,1031.5 408.5,1032.1 409,1029.1 409.4,1030.8 409.9,1027.9 410.4,1030.2 410.9,1036.2 411.3,1030.2 411.8,1030.8 412.3,1032.4 412.7,1031.2 413.2,1028.5 413.7,1028.7 414.2,1024.7 414.6,1029.6 415.1,1029.6 415.6,1029.7 416,1032.2 416.5,1036.1 417,1037.2 417.5,1034.7 417.9,1036.9 418.4,1029.5 418.9,1034.8 419.3,1030.9 419.8,1031.6 420.3,1038 420.8,1036.3 421.2,1037.5 421.7,1037 422.2,1034 422.6,1035.1 423.1,1037.9 423.6,1038.3 424.1,1034.3 424.5,1045.3 425,1037.8 425.5,1040.9 425.9,1045.8 426.4,1037.7 426.9,1036.7 427.4,1040.7 427.8,1043.3 428.3,1047.2 428.8,1039.8 429.2,1040.9 429.7,1046.8 430.2,1042.9 430.7,1043.6 431.1,1040.8 431.6,1047.4 432.1,1036.9 432.5,1037.7 433,1038.8 433.5,1044.1 434,1042.2 434.4,1041.1 434.9,1035.2 435.4,1039.3 435.8,1037.6 436.3,1041.4 436.8,1039.7 437.2,1036.6 437.7,1036.5 438.2,1037.4 438.7,1036.8 439.1,1032.6 439.6,1032.7 440.1,1033.9 440.5,1037.6 441,1042.1 441.5,1040.8 442,1041.9 442.4,1043.4 442.9,1043.2 443.4,1040.1 443.8,1041.6 444.3,1038.4 444.8,1039.9 445.3,1044.4 445.7,1040.1 446.2,1040.2 446.7,1039.3 447.1,1030.7 447.6,1037.7 448.1,1039.1 448.6,1041.7 449,1034.8 449.5,1035.4 450,1038.5 450.4,1035.9 450.9,1036 451.4,1036.6 451.9,1036.2 452.3,1034.6 452.8,1037.1 453.3,1038.3 453.7,1035.2 454.2,1037.1 454.7,1032.8 455.2,1041.1 455.6,1035.1 456.1,1035.9 456.6,1025.3 457,1035.1 457.5,1033.2 458,1031.5 458.5,1031.4 458.9,1031.5 459.4,1036.5 459.9,1033.6 460.3,1029.6 460.8,1037.1 461.3,1036.1 461.8,1034.6 462.2,1033.1 462.7,1034 463.2,1040.1 463.6,1038.6 464.1,1037.9 464.6,1041.1 465.1,1040.5 465.5,1031 466,1039.7 466.5,1036.2 466.9,1036 467.4,1040.5 467.9,1037 468.4,1042.3 468.8,1043 469.3,1036 469.8,1036.2 470.2,1042.2 470.7,1036.6 471.2,1040.4 471.6,1038.8 472.1,1038.2 472.6,1035.4 473.1,1033.1 473.5,1038.6 474,1033 474.5,1034.8 474.9,1036.8 475.4,1035.5 475.9,1041.5 476.4,1035 476.8,1036.3 477.3,1039.6 477.8,1034.8 478.2,1035.8 478.7,1037.1 479.2,1036.2 479.7,1039.2 480.1,1036.6 480.6,1034.1 481.1,1030.6 481.5,1030.7 482,1033.2 482.5,1031 483,1032.2 483.4,1032.5 483.9,1035.4 484.4,1032.2 484.8,1031.2 485.3,1030.6 485.8,1032.1 486.3,1029.6 486.7,1031.7 487.2,1029.9 487.7,1034.3 488.1,1027.3 488.6,1031.2 489.1,1037.3 489.6,1031.7 490,1027.6 490.5,1031 491,1032.8 491.4,1030.5 491.9,1033 492.4,1034.6 492.9,1034.9 493.3,1032.6 493.8,1037.5 494.3,1032.5 494.7,1030.7 495.2,1027.6 495.7,1038.1 496.2,1031.3 496.6,1032.7 497.1,1031.6 497.6,1030.4 498,1034.2 498.5,1030.7 499,1036.2 499.5,1033.6 499.9,1041.5 500.4,1040.5 500.9,1031.3 501.3,1037.3 501.8,1034.6 502.3,1041.1 502.7,1037.1 503.2,1036.1 503.7,1034.3 504.2,1036.9 504.6,1035.2 505.1,1038.8 505.6,1035.5 506,1034.8 506.5,1033 507,1036.9 507.5,1036.2 507.9,1037.1 508.4,1043 508.9,1035.7 509.3,1036.1 509.8,1039.3 510.3,1041.1 510.8,1043.7 511.2,1039.1 511.7,1037.2 512.2,1035.2 512.6,1038.9 513.1,1038.4 513.6,1040.1 514.1,1037.9 514.5,1034.9 515,1038.3 515.5,1043.1 515.9,1042.5 516.4,1042.8 516.9,1042.7 517.4,1043.5 517.8,1045 518.3,1039 518.8,1047.1 519.2,1033.9 519.7,1039.4 520.2,1038.6 520.7,1041.9 521.1,1043.8 521.6,1045.6 522.1,1044.8 522.5,1046.3 523,1043 523.5,1045.9 524,1045.8 524.4,1044.7 524.9,1042.2 525.4,1043.5 525.8,1042.3 526.3,1042.9 526.8,1042.6 527.3,1042.7 527.7,1039.1 528.2,1040.3 528.7,1041.8 529.1,1040.3 529.6,1036.1 530.1,1038.7 530.6,1038.1 531,1044.2 531.5,1041.7 532,1045.8 532.4,1039.4 532.9,1046.9 533.4,1039.6 533.9,1039 534.3,1038 534.8,1042.8 535.3,1043 535.7,1043.3 536.2,1040.7 536.7,1040.9 537.1,1035.4 537.6,1036.3 538.1,1042.2 538.6,1050.2 539,1040.4 539.5,1037.9 540,1038.1 540.4,1046 540.9,1042.5 541.4,1045.9 541.9,1040.1 542.3,1039.3 542.8,1043.5 543.3,1040.4 543.7,1035.1 544.2,1039.6 544.7,1043.9 545.2,1041.1 545.6,1042.1 546.1,1044 546.6,1043.1 547,1041.5 547.5,1042.4 548,1041 548.5,1044.1 548.9,1044.5 549.4,1038 549.9,1041.6 550.3,1039.6 550.8,1041.2 551.3,1042.2 551.8,1041.8 552.2,1041.5 552.7,1034.9 553.2,1041.1 553.6,1038 554.1,1037.8 554.6,1038.5 555.1,1036.2 555.5,1037.1 556,1039.4 556.5,1041.3 556.9,1036.9 557.4,1041.6 557.9,1030.6 558.4,1035 558.8,1039.9 559.3,1037.8 559.8,1037.1 560.2,1040.8 560.7,1032 561.2,1036.1 561.7,1037.5 562.1,1034.9 562.6,1037.2 563.1,1034.1 563.5,1036.2 564,1034.2 564.5,1035.5 565,1038.3 565.4,1033.1 565.9,1031.7 566.4,1035.6 566.8,1026 567.3,1027.7 567.8,1031.8 568.2,1022.8 568.7,1028 569.2,1026.8 569.7,1023.5 570.1,1026.5 570.6,1026.7 571.1,1022.7 571.5,1023.3 572,1018.9 572.5,1017.7 573,1018.1 573.4,1020.4 573.9,1021.8 574.4,1017.5 574.8,1022.2 575.3,1015.3 575.8,1020.2 576.3,1020.8 576.7,1016.4 577.2,1018.7 577.7,1017 578.1,1023.6 578.6,1023.5 579.1,1022.5 579.6,1019.9 580,1025.9 580.5,1020.2 581,1025.3 581.4,1026.4 581.9,1018.6 582.4,1019.9 582.9,1024.7 583.3,1024.8 583.8,1017.2 584.3,1016.9 584.7,1012.9 585.2,1015.7 585.7,1013.9 586.2,1015.9 586.6,1012 587.1,1013.5 587.6,1016.1 588,1010.5 588.5,1014.9 589,1012.6 589.5,1008.7 589.9,1012.3 590.4,1022.1 590.9,1016.6 591.3,1018.2 591.8,1019.2 592.3,1018.4 592.8,1017.7 593.2,1019 593.7,1016.6 594.2,1017.9 594.6,1016.3 595.1,1016.9 595.6,1014.9 596.1,1015.6 596.5,1022.9 597,1020.9 597.5,1022.7 597.9,1022.6 598.4,1026.9 598.9,1021.6 599.4,1021.8 599.8,1019.7 600.3,1022.1 600.8,1021.1 601.2,1022 601.7,1014 602.2,1026.2 602.6,1022.4 603.1,1017.4 603.6,1021.1 604.1,1017.2 604.5,1013.3 605,1021.7 605.5,1015.6 605.9,1014.8 606.4,1019 606.9,1018.6 607.4,1017.6 607.8,1025.6 608.3,1018.3 608.8,1019.7 609.2,1020.1 609.7,1020 610.2,1020.4 610.7,1020.1 611.1,1021 611.6,1022 612.1,1022.1 612.5,1025.5 613,1023.2 613.5,1027.9 614,1023.8 614.4,1022.5 614.9,1018.8 615.4,1021.2 615.8,1024 616.3,1023.2 616.8,1019.9 617.3,1024.1 617.7,1023.6 618.2,1026.4 618.7,1028.9 619.1,1025.5 619.6,1029.4 620.1,1030.1 620.6,1023.4 621,1027.9 621.5,1026.3 622,1024.2 622.4,1029 622.9,1028.1 623.4,1030.7 623.9,1028.5 624.3,1031.4 624.8,1027 625.3,1034.8 625.7,1028.3 626.2,1030.7 626.7,1028.3 627.2,1032.6 627.6,1029.8 628.1,1032.9 628.6,1029.5 629,1027.4 629.5,1026.6 630,1031.4 630.5,1031.5 630.9,1027.2 631.4,1027.6 631.9,1028.6 632.3,1036 632.8,1037.6 633.3,1033.5 633.8,1030.8 634.2,1034.3 634.7,1038.8 635.2,1030.2 635.6,1036.6 636.1,1036.6 636.6,1034.7 637,1033.9 637.5,1033 638,1036.5 638.5,1037.8 638.9,1036.7 639.4,1030.5 639.9,1036.6 640.3,1033.8 640.8,1035.3 641.3,1031.8 641.8,1029.7 642.2,1032.6 642.7,1034.6 643.2,1033.7 643.6,1035.5 644.1,1037.7 644.6,1033.2 645.1,1032.3 645.5,1035.2 646,1037.9 646.5,1035 646.9,1040.2 647.4,1037.4 647.9,1041.3 648.4,1041.6 648.8,1033.2 649.3,1034.5 649.8,1041.3 650.2,1041 650.7,1036.5 651.2,1041.9 651.7,1039.2 652.1,1039.8 652.6,1038.2 653.1,1041.9 653.5,1044.3 654,1039.7 654.5,1038.5 655,1042.7 655.4,1046.1 655.9,1042.3 656.4,1043 656.8,1045.9 657.3,1042.4 657.8,1035.8 658.3,1033.4 658.7,1031.4 659.2,1039.4 659.7,1036.7 660.1,1038.4 660.6,1031.3 661.1,1038.3 661.6,1034.1 662,1033.7 662.5,1031.6 663,1028.9 663.4,1027.4 663.9,1035.6 664.4,1029.1 664.9,1026 665.3,1028 665.8,1029.3 666.3,1032.4 666.7,1027.4 667.2,1030.5 667.7,1030.4 668.1,1032.2 668.6,1032.4 669.1,1025.5 669.6,1028.4 670,1031.8 670.5,1027.6 671,1029.9 671.4,1029.1 671.9,1033.6 672.4,1030.4 672.9,1028.1 673.3,1025.9 673.8,1032.9 674.3,1031.7 674.7,1029.6 675.2,1027.9 675.7,1024.2 676.2,1030.4 676.6,1025.3 677.1,1025.5 677.6,1029.9 678,1029.3 678.5,1024.5 679,1027.8 679.5,1026.4 679.9,1026.5 680.4,1024.3 680.9,1030.3 681.3,1021.6 681.8,1027 682.3,1029.3 682.8,1026.4 683.2,1029.3 683.7,1024.3 684.2,1027.4 684.6,1023.3 685.1,1023.4 685.6,1027.7 686.1,1020.9 686.5,1027.6 687,1026.5 687.5,1025.7 687.9,1024 688.4,1028.7 688.9,1026 689.4,1024.3 689.8,1025.4 690.3,1023.3 690.8,1029.6 691.2,1029.5 691.7,1028 692.2,1027.5 692.7,1028.7 693.1,1024.3 693.6,1023.1 694.1,1031 694.5,1025.7 695,1022.8 695.5,1026.9 696,1026.2 696.4,1032.2 696.9,1025.1 697.4,1025.9 697.8,1027.8 698.3,1019.2 698.8,1022.9 699.3,1029.9 699.7,1026.5 700.2,1030.9 700.7,1027.4 701.1,1027.1 701.6,1025.5 702.1,1023.5 702.5,1029.7 703,1030 703.5,1022.4 704,1023.2 704.4,1024.4 704.9,1024 705.4,1027.1 705.8,1029.7 706.3,1025 706.8,1026.7 707.3,1025.9 707.7,1019.7 708.2,1024.4 708.7,1025.4 709.1,1023.6 709.6,1020.8 710.1,1023.7 710.6,1020.8 711,1025.2 711.5,1023.5 712,1021 712.4,1019 712.9,1018.7 713.4,1020.4 713.9,1021.3 714.3,1020.9 714.8,1017.1 715.3,1020.9 715.7,1017.1 716.2,1020.2 716.7,1018.2 717.2,1018 717.6,1008.6 718.1,1011.1 718.6,1010.1 719,1012.5 719.5,1013.2 720,1013.2 720.5,1010.8 720.9,1013 721.4,1015.6 721.9,1014.6 722.3,1012.9 722.8,1013.6 723.3,1014.4 723.8,1016.7 724.2,1013.7 724.7,1016.3 725.2,1018.1 725.6,1017.9 726.1,1022.2 726.6,1023.4 727.1,1021.5 727.5,1021.7 728,1023.8 728.5,1022 728.9,1021.7 729.4,1020.2 729.9,1022.6 730.4,1021.9 730.8,1023.9 731.3,1021.7 731.8,1023.8 732.2,1023.8 732.7,1023 733.2,1020 733.6,1029.1 734.1,1023.6 734.6,1028 735.1,1030.8 735.5,1034.1 736,1033.6 736.5,1032.6 736.9,1035 737.4,1033.3 737.9,1029.9 738.4,1030.6 738.8,1028.8 739.3,1036.5 739.8,1035.1 740.2,1028.2 740.7,1031.9 741.2,1031.3 741.7,1031.5 742.1,1032.4 742.6,1035.6 743.1,1035.8 743.5,1034.6 744,1041.3 744.5,1040.3 745,1038.4 745.4,1037.8 745.9,1036.6 746.4,1034.1 746.8,1031.4 747.3,1031.5 747.8,1041.6 748.3,1033 748.7,1036 749.2,1038.2 749.7,1036 750.1,1037.8 750.6,1035.7 751.1,1037.4 751.6,1033.2 752,1032.4 752.5,1036.2 753,1034.9 753.4,1033 753.9,1037 754.4,1038.6 754.9,1041.9 755.3,1044.5 755.8,1045.4 756.3,1044.7 756.7,1042.1 757.2,1043.5 757.7,1040.3 758.2,1046.1 758.6,1043.5 759.1,1040.4 759.6,1040.1 760,1039.6 760.5,1036.2 761,1038 761.5,1041.5 761.9,1042 762.4,1041.7 762.9,1043.5 763.3,1040.9 763.8,1042.6 764.3,1041.8 764.8,1037.9 765.2,1036.4 765.7,1036.8 766.2,1040.1 766.6,1038.4 767.1,1038.5 767.6,1039.7 768,1038.5 768.5,1040.3 769,1042.3 769.5,1039.2 769.9,1038.8 770.4,1044 770.9,1042.2 771.3,1042.3 771.8,1033.7 772.3,1039.6 772.8,1041 773.2,1039.2 773.7,1038.9 774.2,1036.1 774.6,1036.4 775.1,1038.1 775.6,1043.3 776.1,1038.2 776.5,1041.1 777,1037.3 777.5,1038.3 777.9,1042.4 778.4,1041 778.9,1041.6 779.4,1036.4 779.8,1044.4 780.3,1041.7 780.8,1041.9 781.2,1044.3 781.7,1044.3 782.2,1043.6 782.7,1045.3 783.1,1048.2 783.6,1043.2 784.1,1039.6 784.5,1046.2 785,1041.8 785.5,1043 786,1042 786.4,1042.2 786.9,1046.4 787.4,1040 787.8,1046.5 788.3,1043.3 788.8,1047.5 789.3,1045 789.7,1047.4 790.2,1040.4 790.7,1049.7 791.1,1041.9 791.6,1045.4 792.1,1037.2 792.6,1043.8 793,1042.4 793.5,1039.2 794,1035.7 794.4,1038 794.9,1035 795.4,1033.4 795.9,1034.4 796.3,1036.2 796.8,1032.7 797.3,1032.3 797.7,1032 798.2,1033.1 798.7,1029.6 799.2,1030.3 799.6,1031.4 800.1,1031.9 800.6,1030.2 801,1023.8 801.5,1025.1 802,1032.2 802.4,1023.8 802.9,1030.8 803.4,1029.6 803.9,1027.9 804.3,1029 804.8,1036.3 805.3,1033.3 805.7,1032.3 806.2,1032.3 806.7,1034.5 807.2,1028.4 807.6,1028.3 808.1,1030.5 808.6,1031 809,1030.6 809.5,1029.5 810,1032.9 810.5,1035.3 810.9,1030.6 811.4,1028 811.9,1026 812.3,1031.6 812.8,1029.1 813.3,1030.4 813.8,1027.7 814.2,1026.3 814.7,1028.9 815.2,1030.1 815.6,1034.8 816.1,1029.5 816.6,1031.6 817.1,1029.3 817.5,1027.1 818,1030.9 818.5,1036.5 818.9,1033.7 819.4,1028.1 819.9,1027.1 820.4,1025.4 820.8,1034.2 821.3,1027.9 821.8,1027.8 822.2,1022.3 822.7,1021.6 823.2,1020.4 823.7,1023.3 824.1,1023.9 824.6,1023.6 825.1,1028.9 825.5,1026.4 826,1026.3 826.5,1022.3 827,1020.1 827.4,1023.6 827.9,1025.4 828.4,1023.9 828.8,1021.7 829.3,1026.9 829.8,1025 830.3,1024.6 830.7,1023.6 831.2,1022.7 831.7,1019.2 832.1,1020.7 832.6,1020 833.1,1024.3 833.5,1021.5 834,1023.3 834.5,1023.8 835,1022.9 835.4,1025.9 835.9,1019.7 836.4,1024.6 836.8,1020.6 837.3,1019.3 837.8,1020.3 838.3,1028.9 838.7,1025.3 839.2,1024.6 839.7,1026 840.1,1021.1 840.6,1020.4 841.1,1020.7 841.6,1021.3 842,1015.7 842.5,1021.7 843,1017.5 843.4,1018.3 843.9,1021.6 844.4,1017.2 844.9,1021.3 845.3,1022.9 845.8,1021.3 846.3,1020.9 846.7,1023 847.2,1024.5 847.7,1016.8 848.2,1024.9 848.6,1020 849.1,1026.1 849.6,1021.9 850,1023.4 850.5,1021.6 851,1021.8 851.5,1027.7 851.9,1022.5 852.4,1025.1 852.9,1024.9 853.3,1020.9 853.8,1023.6 854.3,1021 854.8,1024.4 855.2,1024.6 855.7,1022.4 856.2,1021.7 856.6,1023.4 857.1,1024.2 857.6,1026.5 858.1,1026.5 858.5,1032.5 859,1031.1 859.5,1030 859.9,1032 860.4,1028.6 860.9,1026.8 861.4,1031.3 861.8,1027.4 862.3,1031.6 862.8,1031 863.2,1029.5 863.7,1030.4 864.2,1029.7 864.7,1029.6 865.1,1037.6 865.6,1032.1 866.1,1034.8 866.5,1030.6 867,1030.1 867.5,1032.7 867.9,1032.5 868.4,1035.9 868.9,1036.3 869.4,1039 869.8,1037.4 870.3,1036.3 870.8,1035.4 871.2,1039.9 871.7,1039.6 872.2,1034 872.7,1035.1 873.1,1036.1 873.6,1034.6 874.1,1037 874.5,1034.9 875,1035.8 875.5,1035.2 876,1036.6 876.4,1041.4 876.9,1033.4 877.4,1038.6 877.8,1037.2 878.3,1035.1 878.8,1038.3 879.3,1036.2 879.7,1038.6 880.2,1042.6 880.7,1037.8 881.1,1041 881.6,1041.8 882.1,1040.6 882.6,1042.1 883,1042.9 883.5,1045.1 884,1043.7 884.4,1041.3 884.9,1042.4 885.4,1044.1 885.9,1037.3 886.3,1043.1 886.8,1043.8 887.3,1040.7 887.7,1040.2 888.2,1039.2 888.7,1035.4 889.2,1042.6 889.6,1046 890.1,1049.3 890.6,1043.6 891,1041.3 891.5,1043.9 892,1043.4 892.5,1042.2 892.9,1038.9 893.4,1041.6 893.9,1045.9 894.3,1045 894.8,1045.9 895.3,1043.1 895.8,1040.7 896.2,1045.5 896.7,1046.3 897.2,1040 897.6,1045.5 898.1,1042.3 898.6,1044.4 899,1037.2 899.5,1042.5 900,1047.5 900.5,1042.2 900.9,1041.3 901.4,1038.4 901.9,1039.4 902.3,1041.2 902.8,1037.2 903.3,1041.5 903.8,1038.2 904.2,1039.3 904.7,1041.5 905.2,1036.8 905.6,1034.6 906.1,1038.8 906.6,1038.2 907.1,1032 907.5,1037 908,1036.1 908.5,1035.7 908.9,1031.4 909.4,1030.6 909.9,1040.4 910.4,1032.1 910.8,1028.3 911.3,1036.7 911.8,1028.3 912.2,1037.6 912.7,1032.8 913.2,1035.7 913.7,1031.8 914.1,1034.9 914.6,1034 915.1,1033.1 915.5,1033.8 916,1029.1 916.5,1032.4 917,1031.3 917.4,1030 917.9,1029.9 918.4,1026.5 918.8,1026.9 919.3,1030.4 919.8,1026.1 920.3,1021.9 920.7,1030 921.2,1028.5 921.7,1023.6 922.1,1026.8 922.6,1027.1 923.1,1032.2 923.6,1027.4 924,1029.5 924.5,1027.3 925,1020.6 925.4,1030.3 925.9,1031.3 926.4,1028.3 926.9,1026.8 927.3,1025.6 927.8,1025.9 928.3,1025.5 928.7,1025.2 929.2,1025.2 929.7,1028.7 930.2,1027.9 930.6,1022.8 931.1,1023.7 931.6,1023.4 932,1022.1 932.5,1027.1 933,1018.4 933.4,1024.9 933.9,1019.5 934.4,1024.9 934.9,1022.3 935.3,1019.1 935.8,1016.1 936.3,1017 936.7,1014 937.2,1012.1 937.7,1008.9 938.2,1007.9 938.6,1006.3 939.1,1010 939.6,1004 940,1011.7 940.5,1003.7 941,1004.6 941.5,1007.9 941.9,1000.7 942.4,1002.1 942.9,1005 943.3,1005.3 943.8,1003.7 944.3,1007.3 944.8,1005.8 945.2,1005.7 945.7,1009.7 946.2,1008 946.6,1010.6 947.1,1013.1 947.6,1012.2 948.1,1013 948.5,1014.7 949,1012.6 949.5,1014.8 949.9,1021.6 950.4,1017 950.9,1016.4 951.4,1012.8 951.8,1015.3 952.3,1020.3 952.8,1017.5 953.2,1017 953.7,1017.1 954.2,1020.4 954.7,1018.9 955.1,1017.2 955.6,1020.8 956.1,1022.6 956.5,1023.5 957,1022.8 957.5,1025.1 958,1018.4 958.4,1020.3 958.9,1019.6 959.4,1013.1 959.8,1025.9 960.3,1020.8 960.8,1021.5 961.3,1017.8 961.7,1024.2 962.2,1021.7 962.7,1023 963.1,1021.5 963.6,1020.6 964.1,1014.7 964.6,1020.6 965,1013.6 965.5,1022.3 966,1018.7 966.4,1021.2 966.9,1028.9 967.4,1022.2 967.8,1021.7 968.3,1021.1 968.8,1026 969.3,1018.5 969.7,1025.8 970.2,1018.6 970.7,1024.8 971.1,1026.2 971.6,1022.9 972.1,1022.7 972.6,1018.4 973,1019.4 973.5,1023.6 974,1017.8 974.4,1021.7 974.9,1019.1 975.4,1021.2 975.9,1030.8 976.3,1022.4 976.8,1025.8 977.3,1026.6 977.7,1029.1 978.2,1026.7 978.7,1021.1 979.2,1025.2 979.6,1026.7 980.1,1025.3 980.6,1028 981,1027 981.5,1034.5 982,1025.4 982.5,1024 982.9,1025.9 983.4,1027.9 983.9,1031.3 984.3,1030.8 984.8,1033.7 985.3,1030.4 985.8,1036.4 986.2,1040.4 986.7,1040.4 987.2,1035.2 987.6,1037.4 988.1,1035.1 988.6,1038.4 989.1,1032.4 989.5,1038 990,1031.4 990.5,1040.8 990.9,1038 991.4,1039 991.9,1036.9 992.4,1031.8 992.8,1032.2 993.3,1033.7 993.8,1041.9 994.2,1038.7 994.7,1039.1 995.2,1041.1 995.7,1036.3 996.1,1038.5 996.6,1034.3 997.1,1039.4 997.5,1035.5 998,1035.7 998.5,1036.6 998.9,1037.6 999.4,1039.1 999.9,1036.9 1000.4,1034.2 1000.8,1036.7 1001.3,1033.4 1001.8,1036.2 1002.2,1040.8 1002.7,1045.9 1003.2,1039.8 1003.7,1038.2 1004.1,1039 1004.6,1039.9 1005.1,1036.3 1005.5,1040.3 1006,1042.1 1006.5,1042.9 1007,1043.1 1007.4,1038 1007.9,1042.1 1008.4,1049.8 1008.8,1047.3 1009.3,1048.1 1009.8,1045.8 1010.3,1038.7 1010.7,1045.6 1011.2,1038.7 1011.7,1036.8 1012.1,1044.1 1012.6,1037 1013.1,1034.5 1013.6,1034.3 1014,1033.5 1014.5,1034.6" fill="none" stroke="#D95319" stroke-width="2.6" stroke-linejoin="round"/></g>
<g clip-path="url(#c5)"><polyline points="72,1015.8 72,832 72.5,835.7 73,834.3 73.5,838 73.9,837.9 74.4,839.2 74.9,840.8 75.3,844.5 75.8,845.3 76.3,839.6 76.8,842.1 77.2,839 77.7,837.8 78.2,844.5 78.6,842.2 79.1,836.2 79.6,836.4 80.1,836.9 80.5,837.3 81,840.8 81.5,833.1 81.9,840 82.4,836 82.9,840.3 83.4,841.3 83.8,836.1 84.3,834.2 84.8,838.7 85.2,836.8 85.7,837.4 86.2,837.3 86.7,835.7 87.1,839.4 87.6,842.2 88.1,838.4 88.5,842.7 89,838.5 89.5,838 90,837.6 90.4,838.6 90.9,833.3 91.4,835.9 91.8,836 92.3,839.7 92.8,840.4 93.3,839.9 93.7,838.7 94.2,844.5 94.7,840.6 95.1,837.4 95.6,839.9 96.1,841.6 96.6,843.4 97,835.4 97.5,839.2 98,839.8 98.4,843.4 98.9,835.9 99.4,835.9 99.9,842.6 100.3,842 100.8,841.2 101.3,837.7 101.7,833.9 102.2,842 102.7,843.1 103.2,838.1 103.6,837.3 104.1,842.4 104.6,838.8 105,838.6 105.5,840.9 106,837.8 106.4,833.6 106.9,833.6 107.4,838.8 107.9,840.7 108.3,838.8 108.8,839.1 109.3,841.5 109.7,833 110.2,848 110.7,838.6 111.2,838.9 111.6,839.3 112.1,835.7 112.6,843.8 113,842.4 113.5,838.9 114,839.8 114.5,839.1 114.9,830.3 115.4,839.6 115.9,839.1 116.3,840.2 116.8,845.4 117.3,834.3 117.8,837.7 118.2,846.8 118.7,841.5 119.2,837.1 119.6,839.4 120.1,836.8 120.6,841.5 121.1,846.6 121.5,838.9 122,842.8 122.5,842.2 122.9,846.9 123.4,846.2 123.9,841.7 124.4,838.4 124.8,840.2 125.3,836.4 125.8,834.1 126.2,839.6 126.7,841.3 127.2,837.4 127.7,839 128.1,837 128.6,841.3 129.1,841 129.5,842.7 130,841.5 130.5,839.6 131,843.4 131.4,843.6 131.9,842.4 132.4,836.9 132.8,846.7 133.3,843.1 133.8,840.6 134.3,842.4 134.7,841.9 135.2,839.7 135.7,839.2 136.1,843.1 136.6,841.5 137.1,840.2 137.6,842.1 138,838.9 138.5,842.1 139,840.6 139.4,844.6 139.9,838.2 140.4,841.5 140.8,842.2 141.3,839.5 141.8,842.1 142.3,840.4 142.7,841 143.2,841.7 143.7,842.8 144.1,849.3 144.6,838.2 145.1,833.8 145.6,840 146,833.2 146.5,837.2 147,834.9 147.4,832.9 147.9,835.1 148.4,834 148.9,834.2 149.3,839.9 149.8,844.5 150.3,842.3 150.7,835.6 151.2,842.4 151.7,839.8 152.2,840.2 152.6,840.5 153.1,837.1 153.6,838.2 154,841.8 154.5,836.1 155,841.3 155.5,838.9 155.9,836.4 156.4,843.5 156.9,843.1 157.3,841.6 157.8,849.1 158.3,845.9 158.8,844.1 159.2,846.4 159.7,840.4 160.2,842.7 160.6,843 161.1,843 161.6,840 162.1,839.5 162.5,836.9 163,841.7 163.5,843.3 163.9,835.3 164.4,839.8 164.9,838.5 165.4,842 165.8,842.7 166.3,844.3 166.8,841.3 167.2,842.3 167.7,844.3 168.2,835.4 168.7,842.5 169.1,837.6 169.6,844 170.1,838.6 170.5,844.7 171,842.8 171.5,843.3 171.9,847.5 172.4,850.8 172.9,846.9 173.4,841.7 173.8,838.1 174.3,834.2 174.8,848.1 175.2,841.2 175.7,840.6 176.2,841.1 176.7,841.7 177.1,838.5 177.6,839.1 178.1,839.2 178.5,835.5 179,837 179.5,837.8 180,835.4 180.4,842.9 180.9,841.3 181.4,836.8 181.8,838.9 182.3,841.6 182.8,834.5 183.3,837.1 183.7,841.6 184.2,842.4 184.7,838.2 185.1,840.4 185.6,843.4 186.1,843.8 186.6,837.4 187,839.2 187.5,843.6 188,843 188.4,838.1 188.9,840.2 189.4,841.5 189.9,840.1 190.3,835.5 190.8,837.3 191.3,835.9 191.7,843.5 192.2,843.8 192.7,838.6 193.2,845 193.6,835.7 194.1,836.9 194.6,841.5 195,845.1 195.5,846.5 196,844.5 196.5,844.1 196.9,844.1 197.4,837.3 197.9,842.6 198.3,844.5 198.8,845.7 199.3,840.1 199.8,841.1 200.2,837 200.7,834 201.2,834.2 201.6,839 202.1,839 202.6,840 203.1,839.5 203.5,839.7 204,836.8 204.5,841.2 204.9,838.9 205.4,840.9 205.9,846.6 206.3,840.1 206.8,834.2 207.3,840.3 207.8,840.8 208.2,838.5 208.7,844.5 209.2,841.4 209.6,839.7 210.1,842.1 210.6,840.1 211.1,840.6 211.5,838.5 212,838.5 212.5,843.2 212.9,843.4 213.4,840.9 213.9,840 214.4,840.2 214.8,843 215.3,838.5 215.8,846.7 216.2,846.9 216.7,841.1 217.2,836.6 217.7,842.9 218.1,839.6 218.6,843 219.1,838.9 219.5,840.5 220,842.6 220.5,844.3 221,841.1 221.4,844.9 221.9,836.6 222.4,845.5 222.8,838.5 223.3,838 223.8,833.2 224.3,841.3 224.7,846.6 225.2,840.4 225.7,843.4 226.1,845.5 226.6,839.7 227.1,842.1 227.6,835.2 228,838.9 228.5,838.4 229,839.3 229.4,843.3 229.9,838.9 230.4,835.6 230.9,834.4 231.3,840 231.8,840.3 232.3,842.9 232.7,845.1 233.2,841.4 233.7,842.5 234.2,845.8 234.6,841.5 235.1,840.9 235.6,841.5 236,838.9 236.5,835.4 237,837.8 237.4,835.7 237.9,840.4 238.4,834.9 238.9,840.9 239.3,834.4 239.8,836.1 240.3,834.5 240.7,839.3 241.2,840.5 241.7,839.9 242.2,839.3 242.6,835.3 243.1,838.4 243.6,836.3 244,840.3 244.5,835.9 245,837.8 245.5,840.9 245.9,845.2 246.4,843.2 246.9,842.1 247.3,835.2 247.8,839.2 248.3,841.3 248.8,839.4 249.2,837.8 249.7,842.2 250.2,839.3 250.6,836.8 251.1,839.2 251.6,839.7 252.1,840.6 252.5,844.2 253,840.9 253.5,837.8 253.9,836.3 254.4,835.2 254.9,835.1 255.4,839.7 255.8,839.5 256.3,840.2 256.8,838.3 257.2,840.9 257.7,835.8 258.2,835.9 258.7,838.2 259.1,836 259.6,838.9 260.1,836.8 260.5,843 261,841.1 261.5,842.8 262,842.2 262.4,837 262.9,833.2 263.4,838.3 263.8,838.1 264.3,843.3 264.8,842.3 265.3,838.8 265.7,842.4 266.2,840.8 266.7,841.7 267.1,839.1 267.6,839.2 268.1,839.5 268.6,841.7 269,845.8 269.5,844.8 270,839.5 270.4,834.6 270.9,840.8 271.4,837.8 271.8,839.4 272.3,840.4 272.8,836.8 273.3,837.9 273.7,841.6 274.2,842 274.7,835.9 275.1,839.9 275.6,837.2 276.1,841.2 276.6,835.6 277,842.8 277.5,842 278,844.7 278.4,833.9 278.9,830.5 279.4,839.1 279.9,838.3 280.3,837 280.8,838.7 281.3,839.3 281.7,839.2 282.2,834.3 282.7,841.4 283.2,843 283.6,839.1 284.1,844.6 284.6,837.4 285,840.8 285.5,839 286,835.6 286.5,839.3 286.9,839.3 287.4,843.3 287.9,840.5 288.3,840.7 288.8,843.5 289.3,839.6 289.8,838.6 290.2,839.1 290.7,843.1 291.2,836.9 291.6,835.1 292.1,842.8 292.6,843.9 293.1,842 293.5,841.4 294,837.8 294.5,839.5 294.9,839.2 295.4,840.8 295.9,840.2 296.4,840.9 296.8,842.7 297.3,844.1 297.8,836.7 298.2,843.6 298.7,837.7 299.2,834 299.7,839.8 300.1,841.3 300.6,840.8 301.1,842 301.5,839.5 302,836.7 302.5,840.3 303,843.1 303.4,845.2 303.9,841.4 304.4,841.2 304.8,845.5 305.3,843.1 305.8,841.6 306.2,844.6 306.7,842.9 307.2,841.5 307.7,846.2 308.1,841.8 308.6,840.8 309.1,843 309.5,840 310,846 310.5,841.3 311,843.7 311.4,841.2 311.9,845.6 312.4,841.1 312.8,837.6 313.3,835 313.8,837 314.3,846.3 314.7,845.6 315.2,849.5 315.7,844.8 316.1,839.6 316.6,843.4 317.1,843.8 317.6,841.1 318,843.8 318.5,844.4 319,845.1 319.4,845.8 319.9,841.3 320.4,846.5 320.9,840.9 321.3,844.9 321.8,843.8 322.3,842.7 322.7,846.2 323.2,842 323.7,843.8 324.2,834.6 324.6,839.8 325.1,839.7 325.6,844.4 326,836.9 326.5,842.1 327,843.7 327.5,836.1 327.9,840.9 328.4,843.9 328.9,842.8 329.3,847.1 329.8,841.8 330.3,837.8 330.8,836.2 331.2,836.7 331.7,833.5 332.2,836.6 332.6,838.6 333.1,836.9 333.6,835 334.1,835.6 334.5,832 335,841.3 335.5,838.2 335.9,839.9 336.4,837.9 336.9,842.8 337.3,844.1 337.8,840.6 338.3,843.9 338.8,839 339.2,836.5 339.7,841.9 340.2,837.4 340.6,844.5 341.1,843.3 341.6,838.7 342.1,839 342.5,837.7 343,838.6 343.5,833.1 343.9,840 344.4,842.1 344.9,838 345.4,840.8 345.8,833 346.3,837.2 346.8,839.1 347.2,840.6 347.7,838.6 348.2,839.8 348.7,838.9 349.1,834.1 349.6,836.8 350.1,837.9 350.5,837.6 351,839.8 351.5,841.6 352,842 352.4,835.5 352.9,841.2 353.4,836.2 353.8,834.3 354.3,839.6 354.8,839.8 355.3,842.7 355.7,842.4 356.2,840.2 356.7,841.3 357.1,837.3 357.6,838.5 358.1,836.5 358.6,840.6 359,837.1 359.5,834.9 360,845.5 360.4,836.8 360.9,844.3 361.4,840.9 361.9,841.3 362.3,841.1 362.8,845 363.3,848.9 363.7,835.7 364.2,836.9 364.7,843.3 365.2,845.5 365.6,838.4 366.1,834.5 366.6,840 367,843.8 367.5,842.4 368,839.9 368.5,841.3 368.9,841.8 369.4,845.9 369.9,843.3 370.3,846.5 370.8,837.8 371.3,840.4 371.7,841.3 372.2,845.4 372.7,836.5 373.2,841.3 373.6,842.6 374.1,845.2 374.6,844.9 375,846.6 375.5,845 376,837.1 376.5,836.3 376.9,838.7 377.4,838.3 377.9,839.3 378.3,843.1 378.8,839.6 379.3,843.8 379.8,842.6 380.2,840.7 380.7,843.7 381.2,844.1 381.6,836.9 382.1,845.7 382.6,842.7 383.1,843.9 383.5,841.5 384,839.8 384.5,851.1 384.9,843.6 385.4,835.6 385.9,837.3 386.4,838.4 386.8,841 387.3,838.9 387.8,840.1 388.2,844.1 388.7,836 389.2,835.7 389.7,838.5 390.1,839.5 390.6,837 391.1,836 391.5,831.3 392,838.7 392.5,844.1 393,837 393.4,836.8 393.9,840.3 394.4,839.8 394.8,836.8 395.3,850.2 395.8,833.5 396.3,836.8 396.7,836.1 397.2,842.1 397.7,843 398.1,828.8 398.6,841.1 399.1,837.8 399.6,842.9 400,842.9 400.5,841.1 401,844.6 401.4,843 401.9,845.1 402.4,840.1 402.8,840.6 403.3,840.7 403.8,835.5 404.3,842 404.7,843.6 405.2,842.1 405.7,844.2 406.1,839.8 406.6,849.2 407.1,841.7 407.6,847.7 408,838 408.5,837.8 409,840.4 409.4,836.1 409.9,844.6 410.4,839.8 410.9,840 411.3,840.9 411.8,834.1 412.3,840.5 412.7,838.8 413.2,842.2 413.7,843.8 414.2,842.5 414.6,841.5 415.1,837.7 415.6,841.8 416,839.2 416.5,840.6 417,839.7 417.5,839.8 417.9,834.2 418.4,838.2 418.9,836.9 419.3,837.4 419.8,838.5 420.3,840.3 420.8,845.2 421.2,844.4 421.7,842.5 422.2,843.5 422.6,847.6 423.1,843 423.6,836.6 424.1,835.2 424.5,836.6 425,834.9 425.5,840.7 425.9,838.1 426.4,843.3 426.9,835.8 427.4,839.9 427.8,838.3 428.3,836.5 428.8,841 429.2,839.9 429.7,843.5 430.2,834.8 430.7,836.8 431.1,834.3 431.6,834.6 432.1,836.7 432.5,840.7 433,842.7 433.5,835.3 434,835.4 434.4,839.1 434.9,843 435.4,839.8 435.8,841.1 436.3,836.7 436.8,843.6 437.2,839 437.7,842.5 438.2,836.7 438.7,840.4 439.1,840.3 439.6,836 440.1,840.8 440.5,832.6 441,837.3 441.5,834.9 442,834.5 442.4,836.9 442.9,839.8 443.4,834.9 443.8,839.8 444.3,838.8 444.8,839 445.3,838.4 445.7,833.6 446.2,839 446.7,833.1 447.1,836.6 447.6,837.2 448.1,838.5 448.6,841.1 449,837.7 449.5,835.1 450,842.3 450.4,841.3 450.9,839.5 451.4,840 451.9,835.1 452.3,842.2 452.8,839.9 453.3,841.4 453.7,836.4 454.2,837.3 454.7,838.4 455.2,835.9 455.6,836.5 456.1,837.1 456.6,845.6 457,844.3 457.5,844.9 458,840.9 458.5,838.8 458.9,843.8 459.4,844.2 459.9,842.3 460.3,838.9 460.8,843.3 461.3,842.1 461.8,839.2 462.2,841.9 462.7,838.5 463.2,843.1 463.6,840.4 464.1,842.3 464.6,842.5 465.1,838.9 465.5,844.4 466,837.5 466.5,846.8 466.9,838.4 467.4,838 467.9,834.6 468.4,834.8 468.8,843.1 469.3,839.6 469.8,844.7 470.2,841.9 470.7,842.6 471.2,841 471.6,841.2 472.1,840.5 472.6,837.2 473.1,843.1 473.5,843 474,847 474.5,845.9 474.9,847.7 475.4,843.8 475.9,843.3 476.4,842.4 476.8,841.9 477.3,843.5 477.8,838.9 478.2,839.4 478.7,838.3 479.2,839.2 479.7,841.9 480.1,839.6 480.6,838 481.1,841.2 481.5,839.6 482,836.7 482.5,841.2 483,843.5 483.4,842.3 483.9,836.9 484.4,835.2 484.8,840.2 485.3,837.7 485.8,841 486.3,840.5 486.7,838.7 487.2,839.4 487.7,839.1 488.1,844.4 488.6,842 489.1,846.3 489.6,835.9 490,847.5 490.5,842 491,841.7 491.4,842.9 491.9,844 492.4,842.5 492.9,838.3 493.3,842.5 493.8,842.3 494.3,839.4 494.7,840.6 495.2,837.6 495.7,837.6 496.2,839.7 496.6,836.3 497.1,836.5 497.6,841.9 498,838.1 498.5,836.8 499,839.8 499.5,845.7 499.9,836.4 500.4,837.8 500.9,841.3 501.3,838.1 501.8,840 502.3,845.9 502.7,840.2 503.2,837.6 503.7,839.5 504.2,836.1 504.6,842.8 505.1,839.6 505.6,837.5 506,846.7 506.5,841.8 507,836.2 507.5,841.2 507.9,840.2 508.4,836.4 508.9,835.7 509.3,839.8 509.8,838.6 510.3,836.7 510.8,838.5 511.2,840.7 511.7,842.1 512.2,841.3 512.6,849 513.1,844 513.6,842 514.1,840.1 514.5,839.3 515,838 515.5,841.9 515.9,840.5 516.4,841.2 516.9,840.1 517.4,840.7 517.8,834.6 518.3,834.2 518.8,842.4 519.2,839.7 519.7,841.1 520.2,840.1 520.7,845.6 521.1,847.8 521.6,839.2 522.1,837.4 522.5,835.9 523,840.1 523.5,840.1 524,841 524.4,845.6 524.9,840.2 525.4,839.3 525.8,845.6 526.3,844.9 526.8,835.6 527.3,846.9 527.7,843.9 528.2,843.8 528.7,832.4 529.1,842.1 529.6,838.2 530.1,844.8 530.6,835.7 531,840.1 531.5,843.4 532,838.9 532.4,840 532.9,842.6 533.4,837.4 533.9,837.6 534.3,837.9 534.8,840.4 535.3,842 535.7,844.3 536.2,839.6 536.7,841.4 537.1,842 537.6,835.3 538.1,840.4 538.6,837.5 539,836.9 539.5,838.8 540,844.5 540.4,835.5 540.9,833.1 541.4,834.6 541.9,835.6 542.3,838 542.8,840.6 543.3,842.6 543.7,831.6 544.2,839.2 544.7,844.1 545.2,840.1 545.6,839.6 546.1,847.4 546.6,841 547,834.5 547.5,833.1 548,833.9 548.5,841.6 548.9,841.1 549.4,841.7 549.9,840.9 550.3,839 550.8,843.1 551.3,838.7 551.8,840.2 552.2,839.7 552.7,836.6 553.2,829.7 553.6,831.6 554.1,835.6 554.6,843.5 555.1,836.9 555.5,829.3 556,835.2 556.5,834.3 556.9,834 557.4,835.9 557.9,838.8 558.4,838.5 558.8,837.6 559.3,838.4 559.8,836.9 560.2,845 560.7,838.4 561.2,833.5 561.7,834.3 562.1,835.6 562.6,841 563.1,833.6 563.5,839 564,836.7 564.5,838.5 565,834.8 565.4,835.1 565.9,836.1 566.4,846.5 566.8,845.8 567.3,842.1 567.8,842.8 568.2,836.3 568.7,835.2 569.2,839.9 569.7,840.3 570.1,834.9 570.6,841 571.1,835.3 571.5,840.2 572,843.7 572.5,837.7 573,835.6 573.4,837.6 573.9,835.4 574.4,837.3 574.8,838.7 575.3,836.1 575.8,833.8 576.3,840.6 576.7,839.7 577.2,837.7 577.7,837.6 578.1,835.9 578.6,839.7 579.1,842.8 579.6,834.7 580,840.5 580.5,836 581,840 581.4,834.5 581.9,841 582.4,842.4 582.9,839.3 583.3,835.3 583.8,844.8 584.3,844.6 584.7,840 585.2,839.1 585.7,842.5 586.2,839.9 586.6,838.9 587.1,841.3 587.6,837.9 588,834.5 588.5,837.5 589,839 589.5,842 589.9,843.6 590.4,841 590.9,841.6 591.3,838.5 591.8,840.2 592.3,840.6 592.8,841.2 593.2,843.3 593.7,837.9 594.2,845.7 594.6,840.8 595.1,844.2 595.6,840.8 596.1,841.8 596.5,840 597,838.1 597.5,840.2 597.9,841.3 598.4,838.2 598.9,839.5 599.4,840.8 599.8,841.6 600.3,843.5 600.8,846 601.2,844.9 601.7,839 602.2,848.1 602.6,835.2 603.1,841.7 603.6,840.5 604.1,839.1 604.5,839.1 605,839.2 605.5,837.1 605.9,841.7 606.4,839.7 606.9,843.6 607.4,833.9 607.8,837.2 608.3,835.6 608.8,839.6 609.2,844.2 609.7,836.9 610.2,841.7 610.7,841.4 611.1,834.1 611.6,842 612.1,841.3 612.5,844.3 613,836.6 613.5,836.7 614,842.4 614.4,839.5 614.9,842.5 615.4,840.8 615.8,840 616.3,837 616.8,839 617.3,844.2 617.7,839.6 618.2,836.7 618.7,842.8 619.1,839.5 619.6,839.6 620.1,841.9 620.6,839.4 621,845.3 621.5,840.6 622,838.6 622.4,835.8 622.9,836.3 623.4,840.5 623.9,837.4 624.3,838.3 624.8,843.9 625.3,844.3 625.7,840.4 626.2,839 626.7,840.8 627.2,831 627.6,836.9 628.1,836.6 628.6,840.2 629,829 629.5,842.8 630,838.9 630.5,838.6 630.9,833 631.4,837.6 631.9,841.7 632.3,832.3 632.8,837.7 633.3,839.3 633.8,837.9 634.2,838.3 634.7,837.8 635.2,841.8 635.6,838.8 636.1,840.1 636.6,835.2 637,837.6 637.5,838.4 638,833.1 638.5,835.3 638.9,840.9 639.4,840.1 639.9,840.2 640.3,837 640.8,832.4 641.3,837.7 641.8,841.3 642.2,835 642.7,837.8 643.2,837.4 643.6,837.4 644.1,837.5 644.6,833.4 645.1,834.2 645.5,836.8 646,834.5 646.5,832.7 646.9,835.6 647.4,834.9 647.9,837.8 648.4,836.6 648.8,836.2 649.3,834.6 649.8,840.8 650.2,843.4 650.7,841 651.2,842 651.7,849.6 652.1,841.9 652.6,841.8 653.1,842.4 653.5,839.4 654,837.5 654.5,843.4 655,839.3 655.4,840.4 655.9,836.2 656.4,841.1 656.8,843.6 657.3,839.3 657.8,843 658.3,847.1 658.7,846.2 659.2,841.7 659.7,839.9 660.1,836 660.6,842.1 661.1,838.5 661.6,843.9 662,842.1 662.5,838.5 663,840.4 663.4,839.1 663.9,842.4 664.4,844.9 664.9,843.8 665.3,846.9 665.8,840.2 666.3,838.3 666.7,842.2 667.2,844.5 667.7,846.2 668.1,845.8 668.6,841.9 669.1,842.8 669.6,838.3 670,841.6 670.5,843.4 671,839.2 671.4,838.7 671.9,839.2 672.4,841.2 672.9,840.5 673.3,841.9 673.8,839.9 674.3,838.9 674.7,842.1 675.2,837.6 675.7,843.2 676.2,834.7 676.6,838.3 677.1,835.2 677.6,838.5 678,837.6 678.5,841 679,845.2 679.5,841.3 679.9,844.4 680.4,843.1 680.9,843.8 681.3,841.1 681.8,838.5 682.3,842.7 682.8,845.3 683.2,838 683.7,844.3 684.2,841.1 684.6,842.8 685.1,844.6 685.6,837 686.1,842.8 686.5,841.8 687,838 687.5,848.9 687.9,848.6 688.4,840.7 688.9,845.2 689.4,839.6 689.8,842.6 690.3,842.5 690.8,837.9 691.2,841.7 691.7,843.7 692.2,839.1 692.7,847.1 693.1,845 693.6,850.1 694.1,842.8 694.5,838.9 695,841.2 695.5,848.4 696,848 696.4,846.9 696.9,846 697.4,840.5 697.8,841.2 698.3,839.8 698.8,850.2 699.3,841.3 699.7,846.5 700.2,839.7 700.7,838.6 701.1,840.4 701.6,839.9 702.1,837 702.5,851.7 703,847.5 703.5,839.7 704,846.4 704.4,845.7 704.9,845.5 705.4,843.3 705.8,841.4 706.3,845.2 706.8,840.9 707.3,844.7 707.7,837.2 708.2,842.7 708.7,842.5 709.1,846.5 709.6,842.3 710.1,841.7 710.6,836.3 711,836.2 711.5,845 712,843.6 712.4,846 712.9,839.1 713.4,842.5 713.9,839.3 714.3,835.3 714.8,836.4 715.3,842.8 715.7,836.5 716.2,840.4 716.7,841.6 717.2,841.1 717.6,837.5 718.1,840.1 718.6,838.3 719,838.7 719.5,835.3 720,838.2 720.5,835.6 720.9,848.3 721.4,835.6 721.9,839.7 722.3,834.7 722.8,839.7 723.3,837.6 723.8,833.2 724.2,839.7 724.7,840.4 725.2,848.9 725.6,837.6 726.1,840.8 726.6,838 727.1,833.9 727.5,836.6 728,839.1 728.5,845.9 728.9,841 729.4,841.7 729.9,838.5 730.4,843.4 730.8,844.7 731.3,841.6 731.8,837 732.2,842.6 732.7,835.1 733.2,841.4 733.6,842.9 734.1,836.8 734.6,831.1 735.1,835 735.5,843.9 736,841.2 736.5,841.4 736.9,830.3 737.4,836.9 737.9,844.4 738.4,839.3 738.8,841.3 739.3,844 739.8,846.1 740.2,844.2 740.7,838.7 741.2,843.4 741.7,842.3 742.1,838 742.6,844.3 743.1,846.4 743.5,842.1 744,838.6 744.5,839.9 745,841.4 745.4,836.6 745.9,839.4 746.4,846.6 746.8,843.4 747.3,844.5 747.8,841.3 748.3,838.7 748.7,836.3 749.2,838 749.7,838.4 750.1,845.3 750.6,848.4 751.1,843 751.6,841.1 752,840.6 752.5,841.7 753,838.4 753.4,843.3 753.9,848.5 754.4,846.6 754.9,838.1 755.3,837.4 755.8,839.8 756.3,842.5 756.7,839.2 757.2,837.9 757.7,843.1 758.2,841.1 758.6,835.6 759.1,837.9 759.6,842.2 760,840.6 760.5,835.5 761,838.7 761.5,832.3 761.9,836.5 762.4,837.1 762.9,835.8 763.3,841.6 763.8,837.3 764.3,840.5 764.8,841.4 765.2,837.2 765.7,836.6 766.2,839.5 766.6,839.4 767.1,837.3 767.6,840 768,838.1 768.5,835.2 769,841.8 769.5,839.8 769.9,835.4 770.4,839.7 770.9,834.1 771.3,838.1 771.8,834.2 772.3,840 772.8,839.3 773.2,837.4 773.7,835.9 774.2,840.6 774.6,839.3 775.1,836.3 775.6,841 776.1,837.3 776.5,836.5 777,837.7 777.5,841.1 777.9,837.4 778.4,839.3 778.9,842.2 779.4,839.7 779.8,838.7 780.3,837.3 780.8,842.5 781.2,836.4 781.7,841.4 782.2,837.6 782.7,839.5 783.1,835.6 783.6,838.2 784.1,840.5 784.5,842.6 785,834.9 785.5,843.3 786,842.9 786.4,834 786.9,839.5 787.4,839.5 787.8,840.6 788.3,839.5 788.8,839.2 789.3,835.6 789.7,840.9 790.2,843.7 790.7,846 791.1,841.1 791.6,838.7 792.1,837.6 792.6,835.9 793,835.3 793.5,841.7 794,843.5 794.4,835.6 794.9,837.9 795.4,836.7 795.9,841.8 796.3,839.5 796.8,846 797.3,838.7 797.7,841.8 798.2,834.2 798.7,841 799.2,845.8 799.6,837.8 800.1,837.3 800.6,835.6 801,842.4 801.5,839.3 802,840.9 802.4,843.3 802.9,843.1 803.4,846.1 803.9,840.8 804.3,837.6 804.8,843.4 805.3,841.6 805.7,841.4 806.2,839.5 806.7,840.8 807.2,846.7 807.6,838.8 808.1,842.7 808.6,839.2 809,840.1 809.5,841 810,840.9 810.5,840 810.9,836 811.4,833.6 811.9,840.1 812.3,841.7 812.8,840.9 813.3,842.5 813.8,843.4 814.2,842.6 814.7,839.3 815.2,843.8 815.6,845.3 816.1,840.3 816.6,842.2 817.1,833.7 817.5,837.4 818,840.3 818.5,845.7 818.9,843.6 819.4,843.5 819.9,842.8 820.4,847.8 820.8,844.4 821.3,841.3 821.8,842.1 822.2,841.6 822.7,837.1 823.2,841.5 823.7,846.2 824.1,840.6 824.6,838 825.1,837.7 825.5,844.6 826,841.4 826.5,840.3 827,837.8 827.4,843.6 827.9,839.7 828.4,841 828.8,844.5 829.3,838.6 829.8,838.7 830.3,834.8 830.7,838.6 831.2,842.4 831.7,840.4 832.1,838.7 832.6,843 833.1,835 833.5,835.7 834,845.9 834.5,839.3 835,844.6 835.4,841.3 835.9,839.2 836.4,842.4 836.8,838.3 837.3,841.9 837.8,836.6 838.3,839.2 838.7,842.5 839.2,840.1 839.7,840.2 840.1,844.8 840.6,845 841.1,835.1 841.6,840.9 842,840.6 842.5,844.3 843,837 843.4,841.4 843.9,837.8 844.4,835.3 844.9,841.5 845.3,843.3 845.8,841 846.3,838.8 846.7,839.4 847.2,836.4 847.7,839.9 848.2,841.8 848.6,841.1 849.1,847.1 849.6,840.5 850,842 850.5,847.7 851,845.6 851.5,842.2 851.9,840.1 852.4,841.2 852.9,841.7 853.3,836.6 853.8,838.9 854.3,840.3 854.8,841.2 855.2,842.6 855.7,839.5 856.2,847.1 856.6,841.5 857.1,840.4 857.6,838.6 858.1,830.8 858.5,838.5 859,833.6 859.5,839.5 859.9,835.4 860.4,834.6 860.9,838.9 861.4,841.4 861.8,840.5 862.3,837.1 862.8,838 863.2,835.9 863.7,837.4 864.2,840.3 864.7,840.4 865.1,837.6 865.6,839.1 866.1,838.1 866.5,839 867,842.8 867.5,837.5 867.9,843.7 868.4,842.5 868.9,838.3 869.4,840.1 869.8,841.4 870.3,839 870.8,840.5 871.2,839.1 871.7,843.3 872.2,842.2 872.7,847.2 873.1,839.6 873.6,845.4 874.1,841.5 874.5,842.9 875,840.7 875.5,838.1 876,835 876.4,845.2 876.9,846.7 877.4,842.4 877.8,838.9 878.3,842 878.8,837 879.3,841 879.7,841.5 880.2,844.4 880.7,840.3 881.1,843.9 881.6,841.7 882.1,843 882.6,842.1 883,847.6 883.5,838.2 884,836.4 884.4,838.6 884.9,838.7 885.4,838.6 885.9,831.9 886.3,841.6 886.8,839.3 887.3,841.9 887.7,841.5 888.2,838.8 888.7,834.9 889.2,838.9 889.6,841.1 890.1,836.8 890.6,833.9 891,837.6 891.5,836.3 892,837.4 892.5,838 892.9,837.3 893.4,842.1 893.9,846 894.3,843.1 894.8,845.5 895.3,840.9 895.8,838.5 896.2,839.9 896.7,840.1 897.2,835.6 897.6,843.1 898.1,842.5 898.6,837.2 899,841.5 899.5,836.2 900,838.3 900.5,838.7 900.9,840.6 901.4,844.9 901.9,835.8 902.3,838.1 902.8,829.9 903.3,834.9 903.8,841.3 904.2,842.7 904.7,847.9 905.2,843.6 905.6,842 906.1,845.2 906.6,841.1 907.1,840.7 907.5,844.9 908,841 908.5,844.3 908.9,838 909.4,844 909.9,843.9 910.4,850 910.8,843.7 911.3,843.4 911.8,836.2 912.2,839 912.7,841.2 913.2,841.9 913.7,837.6 914.1,838.4 914.6,842.7 915.1,836.1 915.5,838.7 916,834.5 916.5,846.1 917,843.9 917.4,837.8 917.9,838.7 918.4,839.3 918.8,841.8 919.3,836.3 919.8,838.6 920.3,833.5 920.7,833.4 921.2,834.7 921.7,840.8 922.1,835 922.6,830.5 923.1,831.9 923.6,836 924,835.7 924.5,840.1 925,833 925.4,831.9 925.9,833.5 926.4,836.6 926.9,840.8 927.3,838.2 927.8,839.5 928.3,836.5 928.7,836.7 929.2,836.4 929.7,838 930.2,837.4 930.6,837.3 931.1,835.5 931.6,837.1 932,833.1 932.5,837.2 933,834.3 933.4,837.6 933.9,841.1 934.4,836 934.9,837.8 935.3,839.6 935.8,836.7 936.3,835.2 936.7,836.6 937.2,833.3 937.7,835.8 938.2,834.4 938.6,842.6 939.1,843.3 939.6,837.9 940,847.9 940.5,840.1 941,841 941.5,837 941.9,837.9 942.4,836.9 942.9,839.9 943.3,838.3 943.8,832.7 944.3,839.1 944.8,841.7 945.2,834.6 945.7,837.1 946.2,840.2 946.6,842 947.1,839.7 947.6,841.6 948.1,836 948.5,841.3 949,841.2 949.5,839.3 949.9,840.9 950.4,836.7 950.9,840.3 951.4,839.3 951.8,840 952.3,842.1 952.8,837.8 953.2,841 953.7,841.3 954.2,846.8 954.7,839.1 955.1,839.8 955.6,841.7 956.1,837.7 956.5,838.1 957,841.3 957.5,842.8 958,844.3 958.4,839.8 958.9,840.2 959.4,839.4 959.8,833.1 960.3,840.2 960.8,839.3 961.3,843.5 961.7,838.9 962.2,837.2 962.7,842.1 963.1,832.8 963.6,840 964.1,838.7 964.6,839.6 965,837.3 965.5,846.6 966,835.1 966.4,844.2 966.9,829.4 967.4,837.4 967.8,838 968.3,830.7 968.8,843.4 969.3,841.1 969.7,839.8 970.2,837.4 970.7,837.2 971.1,834.4 971.6,845.7 972.1,840.3 972.6,837.6 973,835.5 973.5,843.2 974,840.2 974.4,838.5 974.9,842.3 975.4,833.6 975.9,840.5 976.3,836.7 976.8,837.9 977.3,841.1 977.7,837 978.2,840 978.7,836.3 979.2,842.3 979.6,840.5 980.1,839.1 980.6,836.8 981,842.2 981.5,842.3 982,837.1 982.5,841.3 982.9,839 983.4,838 983.9,841 984.3,844 984.8,839.1 985.3,835.4 985.8,840.4 986.2,841.6 986.7,835.2 987.2,840.2 987.6,838.6 988.1,836.5 988.6,835.3 989.1,828.2 989.5,831.9 990,837.3 990.5,836 990.9,838.6 991.4,835.1 991.9,841.5 992.4,835.9 992.8,842.6 993.3,844.3 993.8,839.1 994.2,838.8 994.7,839.2 995.2,840.5 995.7,841.3 996.1,841.3 996.6,836.3 997.1,834.9 997.5,840.8 998,841.4 998.5,840 998.9,836.5 999.4,841.2 999.9,843.1 1000.4,842.3 1000.8,840.9 1001.3,842.3 1001.8,840.5 1002.2,835.3 1002.7,838.3 1003.2,836.3 1003.7,840.7 1004.1,838 1004.6,841.4 1005.1,840.6 1005.5,839 1006,844.3 1006.5,843.9 1007,840.4 1007.4,842.6 1007.9,835.1 1008.4,839.7 1008.8,842.4 1009.3,843.1 1009.8,843.5 1010.3,844.9 1010.7,840.2 1011.2,844.9 1011.7,837.1 1012.1,836.6 1012.6,845.8 1013.1,838.3 1013.6,839.8 1014,837.2 1014.5,839.9" fill="none" stroke="#EDB120" stroke-width="2.6" stroke-linejoin="round"/></g>
<rect x="89.4" y="889.6" width="115.8" height="110.4" fill="#fff" stroke="#262626" stroke-width="1.15"/>
<line x1="96.4" x2="164.8" y1="909.1" y2="909.1" stroke="#0072BD" stroke-width="2.6"/>
<line x1="96.4" x2="164.8" y1="943.9" y2="943.9" stroke="#D95319" stroke-width="2.6"/>
<line x1="96.4" x2="164.8" y1="979.5" y2="979.5" stroke="#EDB120" stroke-width="2.6"/>
<rect x="252.4" y="899.9" width="275" height="83.6" fill="#fff"/>
<clipPath id="c6"><rect x="251.1" y="898.6" width="277.6" height="86.2"/></clipPath>
<path d="M286.3 983.5v-2.8M286.3 899.9v2.8M373.2 983.5v-2.8M373.2 899.9v2.8M460.1 983.5v-2.8M460.1 899.9v2.8M252.4 969.9h2.8M527.4 969.9h-2.8M252.4 940.7h2.8M527.4 940.7h-2.8M252.4 911.5h2.8M527.4 911.5h-2.8" stroke="#262626" stroke-width="1.55" fill="none"/>
<rect x="252.4" y="899.9" width="275" height="83.6" fill="none" stroke="#262626" stroke-width="1.55"/>
<g clip-path="url(#c6)"><polyline points="252.4,940.7 527.4,940.7" fill="none" stroke="#0072BD" stroke-width="2.6" stroke-linejoin="round"/></g>
<g clip-path="url(#c6)"><polyline points="249.8,949.4 250.2,947.4 250.7,956.9 251.1,945.3 251.5,952 252,955.9 252.4,952.9 252.8,952.5 253.3,949.3 253.7,950.1 254.1,957.7 254.6,944.8 255,944.3 255.5,953.4 255.9,945.4 256.3,945.9 256.8,946.7 257.2,943.7 257.6,953.5 258.1,944.2 258.5,951.1 258.9,940.3 259.4,949.7 259.8,949.1 260.2,942.1 260.7,944.3 261.1,947.3 261.5,946.8 262,945.2 262.4,942.2 262.8,950 263.3,948.7 263.7,947.9 264.1,945 264.6,943.9 265,947.7 265.4,943.8 265.9,948.9 266.3,944.9 266.7,944.3 267.2,944.2 267.6,939 268.1,938.8 268.5,940.1 268.9,938.9 269.4,947.1 269.8,940.4 270.2,945.4 270.7,945.2 271.1,945.1 271.5,951 272,950.2 272.4,949.3 272.8,949.8 273.3,950.6 273.7,952.3 274.1,952.6 274.6,948.9 275,952.3 275.4,952.1 275.9,948.4 276.3,948.1 276.7,950.2 277.2,952.9 277.6,946.2 278,944.3 278.5,948.1 278.9,948.2 279.3,953.8 279.8,941.9 280.2,948.4 280.7,944 281.1,948.5 281.5,946.2 282,947.4 282.4,951.3 282.8,936.4 283.3,950.1 283.7,945.3 284.1,949.1 284.6,947.1 285,939.5 285.4,950.4 285.9,944 286.3,941.7 286.7,943 287.2,942.3 287.6,945.9 288,946.4 288.5,945.4 288.9,943 289.3,939.7 289.8,943.2 290.2,939.2 290.6,943.9 291.1,945.5 291.5,943.5 291.9,949 292.4,941.4 292.8,947.2 293.3,944.6 293.7,935.1 294.1,946.1 294.6,942.5 295,942.2 295.4,943.2 295.9,944.6 296.3,946.2 296.7,939 297.2,953 297.6,949.6 298,940.7 298.5,942 298.9,943.7 299.3,943 299.8,940.2 300.2,929.4 300.6,937.1 301.1,942 301.5,935.8 301.9,939.5 302.4,933.2 302.8,937.4 303.2,933 303.7,937.3 304.1,930.9 304.5,937.3 305,938.9 305.4,943.7 305.9,942 306.3,940.1 306.7,944 307.2,934.9 307.6,942.6 308,944.6 308.5,938.7 308.9,943.3 309.3,940.9 309.8,941.4 310.2,944.4 310.6,939.4 311.1,944.3 311.5,940.5 311.9,945.1 312.4,948.3 312.8,948.9 313.2,946.5 313.7,944.9 314.1,945.6 314.5,943.5 315,949.7 315.4,945.1 315.8,948.8 316.3,948.8 316.7,936.7 317.1,941.8 317.6,947.9 318,941.7 318.5,943.4 318.9,945.7 319.3,943.1 319.8,950.6 320.2,948.8 320.6,950.3 321.1,944.4 321.5,951.5 321.9,951.2 322.4,949.1 322.8,952.1 323.2,948 323.7,943.1 324.1,952 324.5,943.4 325,951.8 325.4,951 325.8,947.7 326.3,944 326.7,948.3 327.1,948.8 327.6,947.5 328,946.7 328.4,943.9 328.9,945.9 329.3,944.1 329.8,942.3 330.2,944.6 330.6,939.5 331.1,946.1 331.5,946.5 331.9,936.9 332.4,939.3 332.8,944.6 333.2,941.6 333.7,941.8 334.1,944.2 334.5,940.6 335,942.6 335.4,939.9 335.8,950.2 336.3,939.9 336.7,941.9 337.1,943.5 337.6,943.6 338,943.4 338.4,947.7 338.9,945.3 339.3,941.6 339.7,947.9 340.2,942.9 340.6,950.4 341,944.5 341.5,940.8 341.9,943.4 342.4,943.4 342.8,947.3 343.2,940.4 343.7,943.9 344.1,938.4 344.5,940.8 345,942.6 345.4,936.3 345.8,942.8 346.3,936.4 346.7,938.7 347.1,939.5 347.6,936.2 348,936.7 348.4,938.3 348.9,938.3 349.3,938.2 349.7,938.7 350.2,940 350.6,942.4 351,946.7 351.5,938.3 351.9,939.7 352.3,937 352.8,937.9 353.2,936.3 353.6,932.3 354.1,938.2 354.5,941 355,935 355.4,938.7 355.8,937.6 356.3,932.7 356.7,935.3 357.1,931.9 357.6,941 358,934.4 358.4,932.1 358.9,940 359.3,937 359.7,937.7 360.2,944.8 360.6,930.8 361,937.6 361.5,938.2 361.9,932.4 362.3,943.5 362.8,936.8 363.2,939.5 363.6,939.1 364.1,942.5 364.5,936.2 364.9,944.5 365.4,939.3 365.8,939.4 366.2,941.3 366.7,941.9 367.1,941.7 367.6,936.7 368,938.8 368.4,940.6 368.9,945.1 369.3,940.9 369.7,938.7 370.2,940.8 370.6,936.3 371,948.5 371.5,932.5 371.9,941.1 372.3,945.8 372.8,947.1 373.2,937.1 373.6,937.9 374.1,938.9 374.5,938.1 374.9,937.6 375.4,940.7 375.8,935.9 376.2,938.6 376.7,940.9 377.1,946.2 377.5,936.3 378,941.9 378.4,943.4 378.8,936.7 379.3,940.1 379.7,950.3 380.2,950.2 380.6,945.1 381,948.9 381.5,946.2 381.9,937.2 382.3,935 382.8,944.8 383.2,941.2 383.6,941.3 384.1,945 384.5,949.6 384.9,940.5 385.4,944.5 385.8,944 386.2,943.2 386.7,949.6 387.1,941 387.5,946.1 388,944.3 388.4,945.6 388.8,942.2 389.3,940.9 389.7,946.8 390.1,940.2 390.6,942.6 391,944.3 391.4,941.7 391.9,939.1 392.3,939.4 392.8,938.2 393.2,944.3 393.6,944.9 394.1,943.4 394.5,942 394.9,944.6 395.4,948 395.8,952.1 396.2,942.9 396.7,942.7 397.1,949.9 397.5,943.3 398,948.6 398.4,947.3 398.8,945.8 399.3,949.6 399.7,949.5 400.1,952.9 400.6,948.1 401,947.2 401.4,944.1 401.9,944.7 402.3,944.8 402.7,942.2 403.2,950.2 403.6,946.9 404,944.8 404.5,946.3 404.9,942.2 405.4,948.3 405.8,944.5 406.2,945.6 406.7,949.4 407.1,941.7 407.5,942.7 408,946.1 408.4,949 408.8,952.2 409.3,950.5 409.7,951.5 410.1,949.1 410.6,951.8 411,949.4 411.4,951.7 411.9,957 412.3,952.7 412.7,954.1 413.2,954.6 413.6,952 414,947 414.5,954.3 414.9,957.4 415.3,951.7 415.8,940.5 416.2,953.9 416.6,947.5 417.1,950.5 417.5,946.4 418,945.1 418.4,950.7 418.8,945.1 419.3,953.1 419.7,949.3 420.1,955.4 420.6,950.9 421,954.4 421.4,949.7 421.9,956.4 422.3,952.7 422.7,952.1 423.2,952.7 423.6,955.8 424,958.2 424.5,955.7 424.9,951.5 425.3,954.2 425.8,954.9 426.2,951.1 426.6,955.4 427.1,952.7 427.5,949.8 427.9,951.2 428.4,951.1 428.8,952 429.3,945.2 429.7,951.6 430.1,953.9 430.6,951.7 431,946.8 431.4,947.1 431.9,952.8 432.3,948.6 432.7,949.1 433.2,950.6 433.6,949.4 434,948.7 434.5,947.5 434.9,943.2 435.3,952.7 435.8,946.5 436.2,944.5 436.6,945.9 437.1,952.9 437.5,953.6 437.9,957.2 438.4,950.4 438.8,941.3 439.2,955.7 439.7,955 440.1,947.4 440.5,948.6 441,957.1 441.4,950.2 441.9,947.7 442.3,954.6 442.7,947 443.2,954.2 443.6,945.8 444,948.6 444.5,951.9 444.9,954.3 445.3,952.1 445.8,951 446.2,952.5 446.6,952.2 447.1,949.1 447.5,944.4 447.9,949.4 448.4,945.6 448.8,942.4 449.2,945.6 449.7,943.6 450.1,943.8 450.5,951 451,950.3 451.4,961.2 451.8,951.6 452.3,948.8 452.7,954.8 453.1,945.5 453.6,956.6 454,945.8 454.5,954 454.9,955.9 455.3,953 455.8,951.5 456.2,955.2 456.6,955.8 457.1,952.7 457.5,948.4 457.9,949.9 458.4,947.3 458.8,954.2 459.2,952.7 459.7,950.1 460.1,948.7 460.5,947.5 461,941.9 461.4,945.8 461.8,947.8 462.3,946.5 462.7,953.2 463.1,955 463.6,949.7 464,949.9 464.4,950.9 464.9,947.6 465.3,953.4 465.7,954.1 466.2,952.2 466.6,952.8 467.1,950.2 467.5,951.4 467.9,951.3 468.4,961.8 468.8,949.5 469.2,960.1 469.7,953.6 470.1,944.1 470.5,954 471,958 471.4,945.7 471.8,950.6 472.3,950.3 472.7,949.8 473.1,947.7 473.6,948.2 474,949.8 474.4,944.4 474.9,951.1 475.3,945.7 475.7,950.5 476.2,946.7 476.6,950.2 477,948.4 477.5,941.8 477.9,950 478.3,949.6 478.8,943.9 479.2,945.7 479.7,947 480.1,945.5 480.5,937.6 481,946.4 481.4,944.6 481.8,943.4 482.3,947 482.7,944.6 483.1,942.3 483.6,947.5 484,941.8 484.4,949.9 484.9,947.5 485.3,944.3 485.7,934.3 486.2,950.2 486.6,944.4 487,936.3 487.5,947.6 487.9,941.8 488.3,943.1 488.8,948.1 489.2,942.4 489.6,945.4 490.1,941.2 490.5,944.5 490.9,939.4 491.4,949.2 491.8,941.9 492.3,938.1 492.7,939.9 493.1,943.3 493.6,945.1 494,945 494.4,934.5 494.9,941.7 495.3,942 495.7,944.7 496.2,944.8 496.6,940.7 497,943.7 497.5,943.4 497.9,942.7 498.3,940.8 498.8,940.3 499.2,942.5 499.6,942.2 500.1,946.1 500.5,937.1 500.9,939.5 501.4,940.2 501.8,937.6 502.2,939.2 502.7,942.6 503.1,939.4 503.6,930.4 504,933.5 504.4,932.5 504.9,937.1 505.3,937.8 505.7,935.1 506.2,926.3 506.6,933.7 507,932.9 507.5,928.5 507.9,931.4 508.3,930.4 508.8,927.2 509.2,928.8 509.6,931 510.1,927.6 510.5,931.3 510.9,928.1 511.4,926.1 511.8,931.1 512.2,926.9 512.7,928.7 513.1,921.4 513.5,922.8 514,919.7 514.4,920 514.8,920.2 515.3,919.1 515.7,923.2 516.2,918.1 516.6,925 517,914.4 517.5,919.5 517.9,918.1 518.3,925.5 518.8,918.3 519.2,916.7 519.6,927.4 520.1,923 520.5,923 520.9,923.7 521.4,920.4 521.8,918.1 522.2,927.6 522.7,921 523.1,924 523.5,918.9 524,933.6 524.4,927.3 524.8,921.6 525.3,927.1 525.7,920.7 526.1,925.9 526.6,920.9 527,922.6 527.4,927.4 527.9,930.3 528.3,927.4 528.8,922.9 529.2,926.7 529.6,929.4" fill="none" stroke="#D95319" stroke-width="2.6" stroke-linejoin="round"/></g>
<text x="286.3" y="1012.7" class="t" text-anchor="middle">8</text>
<text x="373.2" y="1012.7" class="t" text-anchor="middle">9</text>
<text x="460.1" y="1012.7" class="t" text-anchor="middle">10</text>
<text x="242.9" y="977.7" class="t" text-anchor="end">50</text>
<text x="242.9" y="948.5" class="t" text-anchor="end">60</text>
<text x="242.9" y="919.2" class="t" text-anchor="end">70</text>
<text transform="translate(165.6,47) scale(1.17,1)" font-family="'Liberation Serif',serif" font-style="italic" font-size="28" fill="#000">ϕ</text>
<text transform="translate(165.6,82.8) scale(1.17,1)" font-family="'Liberation Serif',serif" font-style="italic" font-size="28" fill="#000">ϕ</text>
<text transform="translate(165.6,118.2) scale(1.17,1)" font-family="'Liberation Serif',serif" font-style="italic" font-size="28" fill="#000">ϕ</text>
<text x="181.6" y="87.4" font-family="'Liberation Serif',serif" font-size="19.8" fill="#000">1</text>
<text x="181.6" y="122.8" font-family="'Liberation Serif',serif" font-size="19.8" fill="#000">1</text>
<text x="176.6" y="73.9" font-family="'Liberation Serif',serif" font-size="21" fill="#000" text-anchor="middle">ˆ</text>
<line x1="166.1" x2="182.5" y1="95.4" y2="95.4" stroke="#000" stroke-width="1.1"/>
<text transform="translate(171.5,453.7) scale(1.02,1.02)" font-family="'Liberation Serif',serif" font-style="italic" font-size="28" fill="#000">ψ</text>
<text transform="translate(171.5,489.2) scale(1.02,1.02)" font-family="'Liberation Serif',serif" font-style="italic" font-size="28" fill="#000">ψ</text>
<text transform="translate(171.5,524.8) scale(1.02,1.02)" font-family="'Liberation Serif',serif" font-style="italic" font-size="28" fill="#000">ψ</text>
<text x="189.3" y="495.4" font-family="'Liberation Serif',serif" font-size="19.8" fill="#000">1</text>
<text x="189.3" y="530.9" font-family="'Liberation Serif',serif" font-size="19.8" fill="#000">1</text>
<text x="184.1" y="481.2" font-family="'Liberation Serif',serif" font-size="21" fill="#000" text-anchor="middle">ˆ</text>
<line x1="172" x2="190.6" y1="503.4" y2="503.4" stroke="#000" stroke-width="1.1"/>
<text transform="translate(170.9,915) scale(1.02,1)" font-family="'Liberation Serif',serif" font-style="italic" font-size="28" fill="#000">β</text>
<text transform="translate(170.9,950.5) scale(1.02,1)" font-family="'Liberation Serif',serif" font-style="italic" font-size="28" fill="#000">β</text>
<text transform="translate(170.9,986) scale(1.02,1)" font-family="'Liberation Serif',serif" font-style="italic" font-size="28" fill="#000">β</text>
<text x="185.2" y="956.2" font-family="'Liberation Serif',serif" font-size="19.8" fill="#000">1</text>
<text x="185.6" y="993.1" font-family="'Liberation Serif',serif" font-size="19.8" fill="#000">1</text>
<text x="180.7" y="942.8" font-family="'Liberation Serif',serif" font-size="21" fill="#000" text-anchor="middle">ˆ</text>
<line x1="169.7" x2="186.8" y1="963.6" y2="963.6" stroke="#000" stroke-width="1.1"/>
<text x="540.2" y="339.8" text-anchor="middle" font-size="22.8" class="s" font-family="'Liberation Serif','Times New Roman',serif" fill="#000">Time(s)</text>
<text x="544.0" y="736.6" text-anchor="middle" font-size="22.8" class="s" font-family="'Liberation Serif','Times New Roman',serif" fill="#000">Time(s)</text>
<text x="542.6" y="1137.6" text-anchor="middle" font-size="22.8" class="s" font-family="'Liberation Serif','Times New Roman',serif" fill="#000">Time(s)</text>
<text x="552.3" y="381.7" text-anchor="middle" font-size="26.85" class="s" font-family="'Liberation Serif','Times New Roman',serif" fill="#000">(a) Estimation of gravity Toolface</text>
<text x="558.2" y="765.6" text-anchor="middle" font-size="27.15" class="s" font-family="'Liberation Serif','Times New Roman',serif" fill="#000">(b) Estimation of magnetic Toolface</text>
<text x="559.7" y="1166.4" text-anchor="middle" font-size="27.1" class="s" font-family="'Liberation Serif','Times New Roman',serif" fill="#000">(c) Estimation of Azimuth</text>
<text transform="translate(19.0,145.3) rotate(-90)" text-anchor="middle" font-size="22.8" class="s" font-family="'Liberation Serif','Times New Roman',serif" fill="#000">Angle(°)</text>
<text transform="translate(20.5,542.2) rotate(-90)" text-anchor="middle" font-size="22.8" class="s" font-family="'Liberation Serif','Times New Roman',serif" fill="#000">Angle(°)</text>
<text transform="translate(15.5,943.2) rotate(-90)" text-anchor="middle" font-size="22.8" class="s" font-family="'Liberation Serif','Times New Roman',serif" fill="#000">Angle(°)</text>
</svg>
</body></html>
